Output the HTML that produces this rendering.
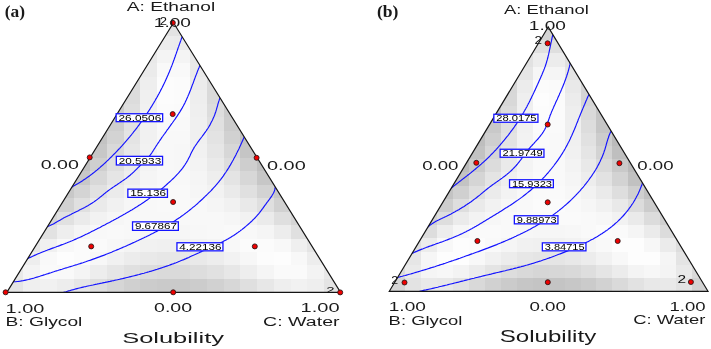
<!DOCTYPE html>
<html><head><meta charset="utf-8"><title>Solubility ternary plots</title>
<style>html,body{margin:0;padding:0;background:#fff;}svg{display:block;}</style>
</head><body>
<svg width="711" height="349" viewBox="0 0 711 349">
<defs>
<clipPath id="cta"><polygon points="173.5,22.8 6.8,292.4 340.6,292.4"/></clipPath>
<clipPath id="ctb"><polygon points="548.2,27.0 389.3,291.3 708.0,291.3"/></clipPath>
</defs>
<polygon points="173.5,22.8 6.8,292.4 340.6,292.4" fill="#e6e6e6"/>
<g clip-path="url(#cta)" shape-rendering="crispEdges">
<rect x="6.80" y="23.00" width="16.99" height="13.77" fill="rgb(205,205,205)"/>
<rect x="23.49" y="23.00" width="16.99" height="13.77" fill="rgb(208,208,208)"/>
<rect x="40.18" y="23.00" width="16.99" height="13.77" fill="rgb(212,212,212)"/>
<rect x="56.87" y="23.00" width="16.99" height="13.77" fill="rgb(217,217,217)"/>
<rect x="73.56" y="23.00" width="16.99" height="13.77" fill="rgb(222,222,222)"/>
<rect x="90.25" y="23.00" width="16.99" height="13.77" fill="rgb(227,227,227)"/>
<rect x="106.94" y="23.00" width="16.99" height="13.77" fill="rgb(231,231,231)"/>
<rect x="123.63" y="23.00" width="16.99" height="13.77" fill="rgb(234,234,234)"/>
<rect x="140.32" y="23.00" width="16.99" height="13.77" fill="rgb(234,234,234)"/>
<rect x="157.01" y="23.00" width="16.99" height="13.77" fill="rgb(227,227,227)"/>
<rect x="173.70" y="23.00" width="16.99" height="13.77" fill="rgb(227,227,227)"/>
<rect x="190.39" y="23.00" width="16.99" height="13.77" fill="rgb(232,232,232)"/>
<rect x="207.08" y="23.00" width="16.99" height="13.77" fill="rgb(232,232,232)"/>
<rect x="223.77" y="23.00" width="16.99" height="13.77" fill="rgb(229,229,229)"/>
<rect x="240.46" y="23.00" width="16.99" height="13.77" fill="rgb(224,224,224)"/>
<rect x="257.15" y="23.00" width="16.99" height="13.77" fill="rgb(219,219,219)"/>
<rect x="273.84" y="23.00" width="16.99" height="13.77" fill="rgb(215,215,215)"/>
<rect x="290.53" y="23.00" width="16.99" height="13.77" fill="rgb(210,210,210)"/>
<rect x="307.22" y="23.00" width="16.99" height="13.77" fill="rgb(206,206,206)"/>
<rect x="323.91" y="23.00" width="16.99" height="13.77" fill="rgb(203,203,203)"/>
<rect x="6.80" y="36.47" width="16.99" height="13.77" fill="rgb(202,202,202)"/>
<rect x="23.49" y="36.47" width="16.99" height="13.77" fill="rgb(205,205,205)"/>
<rect x="40.18" y="36.47" width="16.99" height="13.77" fill="rgb(209,209,209)"/>
<rect x="56.87" y="36.47" width="16.99" height="13.77" fill="rgb(213,213,213)"/>
<rect x="73.56" y="36.47" width="16.99" height="13.77" fill="rgb(217,217,217)"/>
<rect x="90.25" y="36.47" width="16.99" height="13.77" fill="rgb(223,223,223)"/>
<rect x="106.94" y="36.47" width="16.99" height="13.77" fill="rgb(228,228,228)"/>
<rect x="123.63" y="36.47" width="16.99" height="13.77" fill="rgb(232,232,232)"/>
<rect x="140.32" y="36.47" width="16.99" height="13.77" fill="rgb(234,234,234)"/>
<rect x="157.01" y="36.47" width="16.99" height="13.77" fill="rgb(236,236,236)"/>
<rect x="173.70" y="36.47" width="16.99" height="13.77" fill="rgb(235,235,235)"/>
<rect x="190.39" y="36.47" width="16.99" height="13.77" fill="rgb(233,233,233)"/>
<rect x="207.08" y="36.47" width="16.99" height="13.77" fill="rgb(230,230,230)"/>
<rect x="223.77" y="36.47" width="16.99" height="13.77" fill="rgb(226,226,226)"/>
<rect x="240.46" y="36.47" width="16.99" height="13.77" fill="rgb(221,221,221)"/>
<rect x="257.15" y="36.47" width="16.99" height="13.77" fill="rgb(215,215,215)"/>
<rect x="273.84" y="36.47" width="16.99" height="13.77" fill="rgb(211,211,211)"/>
<rect x="290.53" y="36.47" width="16.99" height="13.77" fill="rgb(207,207,207)"/>
<rect x="307.22" y="36.47" width="16.99" height="13.77" fill="rgb(203,203,203)"/>
<rect x="323.91" y="36.47" width="16.99" height="13.77" fill="rgb(200,200,200)"/>
<rect x="6.80" y="49.94" width="16.99" height="13.77" fill="rgb(199,199,199)"/>
<rect x="23.49" y="49.94" width="16.99" height="13.77" fill="rgb(202,202,202)"/>
<rect x="40.18" y="49.94" width="16.99" height="13.77" fill="rgb(205,205,205)"/>
<rect x="56.87" y="49.94" width="16.99" height="13.77" fill="rgb(209,209,209)"/>
<rect x="73.56" y="49.94" width="16.99" height="13.77" fill="rgb(213,213,213)"/>
<rect x="90.25" y="49.94" width="16.99" height="13.77" fill="rgb(218,218,218)"/>
<rect x="106.94" y="49.94" width="16.99" height="13.77" fill="rgb(224,224,224)"/>
<rect x="123.63" y="49.94" width="16.99" height="13.77" fill="rgb(229,229,229)"/>
<rect x="140.32" y="49.94" width="16.99" height="13.77" fill="rgb(233,233,233)"/>
<rect x="157.01" y="49.94" width="16.99" height="13.77" fill="rgb(244,244,244)"/>
<rect x="173.70" y="49.94" width="16.99" height="13.77" fill="rgb(244,244,244)"/>
<rect x="190.39" y="49.94" width="16.99" height="13.77" fill="rgb(232,232,232)"/>
<rect x="207.08" y="49.94" width="16.99" height="13.77" fill="rgb(227,227,227)"/>
<rect x="223.77" y="49.94" width="16.99" height="13.77" fill="rgb(222,222,222)"/>
<rect x="240.46" y="49.94" width="16.99" height="13.77" fill="rgb(216,216,216)"/>
<rect x="257.15" y="49.94" width="16.99" height="13.77" fill="rgb(211,211,211)"/>
<rect x="273.84" y="49.94" width="16.99" height="13.77" fill="rgb(207,207,207)"/>
<rect x="290.53" y="49.94" width="16.99" height="13.77" fill="rgb(203,203,203)"/>
<rect x="307.22" y="49.94" width="16.99" height="13.77" fill="rgb(200,200,200)"/>
<rect x="323.91" y="49.94" width="16.99" height="13.77" fill="rgb(198,198,198)"/>
<rect x="6.80" y="63.41" width="16.99" height="13.77" fill="rgb(197,197,197)"/>
<rect x="23.49" y="63.41" width="16.99" height="13.77" fill="rgb(199,199,199)"/>
<rect x="40.18" y="63.41" width="16.99" height="13.77" fill="rgb(202,202,202)"/>
<rect x="56.87" y="63.41" width="16.99" height="13.77" fill="rgb(205,205,205)"/>
<rect x="73.56" y="63.41" width="16.99" height="13.77" fill="rgb(209,209,209)"/>
<rect x="90.25" y="63.41" width="16.99" height="13.77" fill="rgb(214,214,214)"/>
<rect x="106.94" y="63.41" width="16.99" height="13.77" fill="rgb(219,219,219)"/>
<rect x="123.63" y="63.41" width="16.99" height="13.77" fill="rgb(225,225,225)"/>
<rect x="140.32" y="63.41" width="16.99" height="13.77" fill="rgb(235,235,235)"/>
<rect x="157.01" y="63.41" width="16.99" height="13.77" fill="rgb(249,249,249)"/>
<rect x="173.70" y="63.41" width="16.99" height="13.77" fill="rgb(249,249,249)"/>
<rect x="190.39" y="63.41" width="16.99" height="13.77" fill="rgb(233,233,233)"/>
<rect x="207.08" y="63.41" width="16.99" height="13.77" fill="rgb(223,223,223)"/>
<rect x="223.77" y="63.41" width="16.99" height="13.77" fill="rgb(217,217,217)"/>
<rect x="240.46" y="63.41" width="16.99" height="13.77" fill="rgb(212,212,212)"/>
<rect x="257.15" y="63.41" width="16.99" height="13.77" fill="rgb(207,207,207)"/>
<rect x="273.84" y="63.41" width="16.99" height="13.77" fill="rgb(203,203,203)"/>
<rect x="290.53" y="63.41" width="16.99" height="13.77" fill="rgb(200,200,200)"/>
<rect x="307.22" y="63.41" width="16.99" height="13.77" fill="rgb(197,197,197)"/>
<rect x="323.91" y="63.41" width="16.99" height="13.77" fill="rgb(195,195,195)"/>
<rect x="6.80" y="76.88" width="16.99" height="13.77" fill="rgb(195,195,195)"/>
<rect x="23.49" y="76.88" width="16.99" height="13.77" fill="rgb(197,197,197)"/>
<rect x="40.18" y="76.88" width="16.99" height="13.77" fill="rgb(199,199,199)"/>
<rect x="56.87" y="76.88" width="16.99" height="13.77" fill="rgb(202,202,202)"/>
<rect x="73.56" y="76.88" width="16.99" height="13.77" fill="rgb(205,205,205)"/>
<rect x="90.25" y="76.88" width="16.99" height="13.77" fill="rgb(209,209,209)"/>
<rect x="106.94" y="76.88" width="16.99" height="13.77" fill="rgb(215,215,215)"/>
<rect x="123.63" y="76.88" width="16.99" height="13.77" fill="rgb(220,220,220)"/>
<rect x="140.32" y="76.88" width="16.99" height="13.77" fill="rgb(238,238,238)"/>
<rect x="157.01" y="76.88" width="16.99" height="13.77" fill="rgb(252,252,252)"/>
<rect x="173.70" y="76.88" width="16.99" height="13.77" fill="rgb(251,251,251)"/>
<rect x="190.39" y="76.88" width="16.99" height="13.77" fill="rgb(236,236,236)"/>
<rect x="207.08" y="76.88" width="16.99" height="13.77" fill="rgb(218,218,218)"/>
<rect x="223.77" y="76.88" width="16.99" height="13.77" fill="rgb(212,212,212)"/>
<rect x="240.46" y="76.88" width="16.99" height="13.77" fill="rgb(207,207,207)"/>
<rect x="257.15" y="76.88" width="16.99" height="13.77" fill="rgb(203,203,203)"/>
<rect x="273.84" y="76.88" width="16.99" height="13.77" fill="rgb(200,200,200)"/>
<rect x="290.53" y="76.88" width="16.99" height="13.77" fill="rgb(197,197,197)"/>
<rect x="307.22" y="76.88" width="16.99" height="13.77" fill="rgb(195,195,195)"/>
<rect x="323.91" y="76.88" width="16.99" height="13.77" fill="rgb(194,194,194)"/>
<rect x="6.80" y="90.35" width="16.99" height="13.77" fill="rgb(194,194,194)"/>
<rect x="23.49" y="90.35" width="16.99" height="13.77" fill="rgb(195,195,195)"/>
<rect x="40.18" y="90.35" width="16.99" height="13.77" fill="rgb(196,196,196)"/>
<rect x="56.87" y="90.35" width="16.99" height="13.77" fill="rgb(198,198,198)"/>
<rect x="73.56" y="90.35" width="16.99" height="13.77" fill="rgb(201,201,201)"/>
<rect x="90.25" y="90.35" width="16.99" height="13.77" fill="rgb(205,205,205)"/>
<rect x="106.94" y="90.35" width="16.99" height="13.77" fill="rgb(210,210,210)"/>
<rect x="123.63" y="90.35" width="16.99" height="13.77" fill="rgb(220,220,220)"/>
<rect x="140.32" y="90.35" width="16.99" height="13.77" fill="rgb(240,240,240)"/>
<rect x="157.01" y="90.35" width="16.99" height="13.77" fill="rgb(252,252,252)"/>
<rect x="173.70" y="90.35" width="16.99" height="13.77" fill="rgb(251,251,251)"/>
<rect x="190.39" y="90.35" width="16.99" height="13.77" fill="rgb(238,238,238)"/>
<rect x="207.08" y="90.35" width="16.99" height="13.77" fill="rgb(218,218,218)"/>
<rect x="223.77" y="90.35" width="16.99" height="13.77" fill="rgb(208,208,208)"/>
<rect x="240.46" y="90.35" width="16.99" height="13.77" fill="rgb(203,203,203)"/>
<rect x="257.15" y="90.35" width="16.99" height="13.77" fill="rgb(199,199,199)"/>
<rect x="273.84" y="90.35" width="16.99" height="13.77" fill="rgb(197,197,197)"/>
<rect x="290.53" y="90.35" width="16.99" height="13.77" fill="rgb(195,195,195)"/>
<rect x="307.22" y="90.35" width="16.99" height="13.77" fill="rgb(193,193,193)"/>
<rect x="323.91" y="90.35" width="16.99" height="13.77" fill="rgb(192,192,192)"/>
<rect x="6.80" y="103.82" width="16.99" height="13.77" fill="rgb(193,193,193)"/>
<rect x="23.49" y="103.82" width="16.99" height="13.77" fill="rgb(194,194,194)"/>
<rect x="40.18" y="103.82" width="16.99" height="13.77" fill="rgb(195,195,195)"/>
<rect x="56.87" y="103.82" width="16.99" height="13.77" fill="rgb(196,196,196)"/>
<rect x="73.56" y="103.82" width="16.99" height="13.77" fill="rgb(198,198,198)"/>
<rect x="90.25" y="103.82" width="16.99" height="13.77" fill="rgb(201,201,201)"/>
<rect x="106.94" y="103.82" width="16.99" height="13.77" fill="rgb(205,205,205)"/>
<rect x="123.63" y="103.82" width="16.99" height="13.77" fill="rgb(223,223,223)"/>
<rect x="140.32" y="103.82" width="16.99" height="13.77" fill="rgb(241,241,241)"/>
<rect x="157.01" y="103.82" width="16.99" height="13.77" fill="rgb(251,251,251)"/>
<rect x="173.70" y="103.82" width="16.99" height="13.77" fill="rgb(250,250,250)"/>
<rect x="190.39" y="103.82" width="16.99" height="13.77" fill="rgb(239,239,239)"/>
<rect x="207.08" y="103.82" width="16.99" height="13.77" fill="rgb(221,221,221)"/>
<rect x="223.77" y="103.82" width="16.99" height="13.77" fill="rgb(203,203,203)"/>
<rect x="240.46" y="103.82" width="16.99" height="13.77" fill="rgb(199,199,199)"/>
<rect x="257.15" y="103.82" width="16.99" height="13.77" fill="rgb(196,196,196)"/>
<rect x="273.84" y="103.82" width="16.99" height="13.77" fill="rgb(194,194,194)"/>
<rect x="290.53" y="103.82" width="16.99" height="13.77" fill="rgb(193,193,193)"/>
<rect x="307.22" y="103.82" width="16.99" height="13.77" fill="rgb(192,192,192)"/>
<rect x="323.91" y="103.82" width="16.99" height="13.77" fill="rgb(192,192,192)"/>
<rect x="6.80" y="117.29" width="16.99" height="13.77" fill="rgb(193,193,193)"/>
<rect x="23.49" y="117.29" width="16.99" height="13.77" fill="rgb(193,193,193)"/>
<rect x="40.18" y="117.29" width="16.99" height="13.77" fill="rgb(193,193,193)"/>
<rect x="56.87" y="117.29" width="16.99" height="13.77" fill="rgb(194,194,194)"/>
<rect x="73.56" y="117.29" width="16.99" height="13.77" fill="rgb(196,196,196)"/>
<rect x="90.25" y="117.29" width="16.99" height="13.77" fill="rgb(198,198,198)"/>
<rect x="106.94" y="117.29" width="16.99" height="13.77" fill="rgb(206,206,206)"/>
<rect x="123.63" y="117.29" width="16.99" height="13.77" fill="rgb(226,226,226)"/>
<rect x="140.32" y="117.29" width="16.99" height="13.77" fill="rgb(241,241,241)"/>
<rect x="157.01" y="117.29" width="16.99" height="13.77" fill="rgb(249,249,249)"/>
<rect x="173.70" y="117.29" width="16.99" height="13.77" fill="rgb(249,249,249)"/>
<rect x="190.39" y="117.29" width="16.99" height="13.77" fill="rgb(240,240,240)"/>
<rect x="207.08" y="117.29" width="16.99" height="13.77" fill="rgb(224,224,224)"/>
<rect x="223.77" y="117.29" width="16.99" height="13.77" fill="rgb(204,204,204)"/>
<rect x="240.46" y="117.29" width="16.99" height="13.77" fill="rgb(196,196,196)"/>
<rect x="257.15" y="117.29" width="16.99" height="13.77" fill="rgb(194,194,194)"/>
<rect x="273.84" y="117.29" width="16.99" height="13.77" fill="rgb(193,193,193)"/>
<rect x="290.53" y="117.29" width="16.99" height="13.77" fill="rgb(192,192,192)"/>
<rect x="307.22" y="117.29" width="16.99" height="13.77" fill="rgb(192,192,192)"/>
<rect x="323.91" y="117.29" width="16.99" height="13.77" fill="rgb(192,192,192)"/>
<rect x="6.80" y="130.76" width="16.99" height="13.77" fill="rgb(194,194,194)"/>
<rect x="23.49" y="130.76" width="16.99" height="13.77" fill="rgb(193,193,193)"/>
<rect x="40.18" y="130.76" width="16.99" height="13.77" fill="rgb(193,193,193)"/>
<rect x="56.87" y="130.76" width="16.99" height="13.77" fill="rgb(193,193,193)"/>
<rect x="73.56" y="130.76" width="16.99" height="13.77" fill="rgb(194,194,194)"/>
<rect x="90.25" y="130.76" width="16.99" height="13.77" fill="rgb(195,195,195)"/>
<rect x="106.94" y="130.76" width="16.99" height="13.77" fill="rgb(211,211,211)"/>
<rect x="123.63" y="130.76" width="16.99" height="13.77" fill="rgb(228,228,228)"/>
<rect x="140.32" y="130.76" width="16.99" height="13.77" fill="rgb(241,241,241)"/>
<rect x="157.01" y="130.76" width="16.99" height="13.77" fill="rgb(248,248,248)"/>
<rect x="173.70" y="130.76" width="16.99" height="13.77" fill="rgb(248,248,248)"/>
<rect x="190.39" y="130.76" width="16.99" height="13.77" fill="rgb(240,240,240)"/>
<rect x="207.08" y="130.76" width="16.99" height="13.77" fill="rgb(227,227,227)"/>
<rect x="223.77" y="130.76" width="16.99" height="13.77" fill="rgb(209,209,209)"/>
<rect x="240.46" y="130.76" width="16.99" height="13.77" fill="rgb(193,193,193)"/>
<rect x="257.15" y="130.76" width="16.99" height="13.77" fill="rgb(192,192,192)"/>
<rect x="273.84" y="130.76" width="16.99" height="13.77" fill="rgb(192,192,192)"/>
<rect x="290.53" y="130.76" width="16.99" height="13.77" fill="rgb(192,192,192)"/>
<rect x="307.22" y="130.76" width="16.99" height="13.77" fill="rgb(192,192,192)"/>
<rect x="323.91" y="130.76" width="16.99" height="13.77" fill="rgb(192,192,192)"/>
<rect x="6.80" y="144.23" width="16.99" height="13.77" fill="rgb(196,196,196)"/>
<rect x="23.49" y="144.23" width="16.99" height="13.77" fill="rgb(195,195,195)"/>
<rect x="40.18" y="144.23" width="16.99" height="13.77" fill="rgb(194,194,194)"/>
<rect x="56.87" y="144.23" width="16.99" height="13.77" fill="rgb(193,193,193)"/>
<rect x="73.56" y="144.23" width="16.99" height="13.77" fill="rgb(193,193,193)"/>
<rect x="90.25" y="144.23" width="16.99" height="13.77" fill="rgb(199,199,199)"/>
<rect x="106.94" y="144.23" width="16.99" height="13.77" fill="rgb(217,217,217)"/>
<rect x="123.63" y="144.23" width="16.99" height="13.77" fill="rgb(231,231,231)"/>
<rect x="140.32" y="144.23" width="16.99" height="13.77" fill="rgb(242,242,242)"/>
<rect x="157.01" y="144.23" width="16.99" height="13.77" fill="rgb(248,248,248)"/>
<rect x="173.70" y="144.23" width="16.99" height="13.77" fill="rgb(247,247,247)"/>
<rect x="190.39" y="144.23" width="16.99" height="13.77" fill="rgb(241,241,241)"/>
<rect x="207.08" y="144.23" width="16.99" height="13.77" fill="rgb(230,230,230)"/>
<rect x="223.77" y="144.23" width="16.99" height="13.77" fill="rgb(215,215,215)"/>
<rect x="240.46" y="144.23" width="16.99" height="13.77" fill="rgb(197,197,197)"/>
<rect x="257.15" y="144.23" width="16.99" height="13.77" fill="rgb(192,192,192)"/>
<rect x="273.84" y="144.23" width="16.99" height="13.77" fill="rgb(192,192,192)"/>
<rect x="290.53" y="144.23" width="16.99" height="13.77" fill="rgb(192,192,192)"/>
<rect x="307.22" y="144.23" width="16.99" height="13.77" fill="rgb(193,193,193)"/>
<rect x="323.91" y="144.23" width="16.99" height="13.77" fill="rgb(194,194,194)"/>
<rect x="6.80" y="157.70" width="16.99" height="13.77" fill="rgb(198,198,198)"/>
<rect x="23.49" y="157.70" width="16.99" height="13.77" fill="rgb(197,197,197)"/>
<rect x="40.18" y="157.70" width="16.99" height="13.77" fill="rgb(195,195,195)"/>
<rect x="56.87" y="157.70" width="16.99" height="13.77" fill="rgb(194,194,194)"/>
<rect x="73.56" y="157.70" width="16.99" height="13.77" fill="rgb(193,193,193)"/>
<rect x="90.25" y="157.70" width="16.99" height="13.77" fill="rgb(207,207,207)"/>
<rect x="106.94" y="157.70" width="16.99" height="13.77" fill="rgb(223,223,223)"/>
<rect x="123.63" y="157.70" width="16.99" height="13.77" fill="rgb(235,235,235)"/>
<rect x="140.32" y="157.70" width="16.99" height="13.77" fill="rgb(243,243,243)"/>
<rect x="157.01" y="157.70" width="16.99" height="13.77" fill="rgb(248,248,248)"/>
<rect x="173.70" y="157.70" width="16.99" height="13.77" fill="rgb(247,247,247)"/>
<rect x="190.39" y="157.70" width="16.99" height="13.77" fill="rgb(243,243,243)"/>
<rect x="207.08" y="157.70" width="16.99" height="13.77" fill="rgb(234,234,234)"/>
<rect x="223.77" y="157.70" width="16.99" height="13.77" fill="rgb(221,221,221)"/>
<rect x="240.46" y="157.70" width="16.99" height="13.77" fill="rgb(206,206,206)"/>
<rect x="257.15" y="157.70" width="16.99" height="13.77" fill="rgb(192,192,192)"/>
<rect x="273.84" y="157.70" width="16.99" height="13.77" fill="rgb(193,193,193)"/>
<rect x="290.53" y="157.70" width="16.99" height="13.77" fill="rgb(194,194,194)"/>
<rect x="307.22" y="157.70" width="16.99" height="13.77" fill="rgb(195,195,195)"/>
<rect x="323.91" y="157.70" width="16.99" height="13.77" fill="rgb(197,197,197)"/>
<rect x="6.80" y="171.17" width="16.99" height="13.77" fill="rgb(202,202,202)"/>
<rect x="23.49" y="171.17" width="16.99" height="13.77" fill="rgb(200,200,200)"/>
<rect x="40.18" y="171.17" width="16.99" height="13.77" fill="rgb(198,198,198)"/>
<rect x="56.87" y="171.17" width="16.99" height="13.77" fill="rgb(197,197,197)"/>
<rect x="73.56" y="171.17" width="16.99" height="13.77" fill="rgb(200,200,200)"/>
<rect x="90.25" y="171.17" width="16.99" height="13.77" fill="rgb(216,216,216)"/>
<rect x="106.94" y="171.17" width="16.99" height="13.77" fill="rgb(229,229,229)"/>
<rect x="123.63" y="171.17" width="16.99" height="13.77" fill="rgb(238,238,238)"/>
<rect x="140.32" y="171.17" width="16.99" height="13.77" fill="rgb(245,245,245)"/>
<rect x="157.01" y="171.17" width="16.99" height="13.77" fill="rgb(248,248,248)"/>
<rect x="173.70" y="171.17" width="16.99" height="13.77" fill="rgb(248,248,248)"/>
<rect x="190.39" y="171.17" width="16.99" height="13.77" fill="rgb(245,245,245)"/>
<rect x="207.08" y="171.17" width="16.99" height="13.77" fill="rgb(238,238,238)"/>
<rect x="223.77" y="171.17" width="16.99" height="13.77" fill="rgb(228,228,228)"/>
<rect x="240.46" y="171.17" width="16.99" height="13.77" fill="rgb(215,215,215)"/>
<rect x="257.15" y="171.17" width="16.99" height="13.77" fill="rgb(199,199,199)"/>
<rect x="273.84" y="171.17" width="16.99" height="13.77" fill="rgb(195,195,195)"/>
<rect x="290.53" y="171.17" width="16.99" height="13.77" fill="rgb(197,197,197)"/>
<rect x="307.22" y="171.17" width="16.99" height="13.77" fill="rgb(199,199,199)"/>
<rect x="323.91" y="171.17" width="16.99" height="13.77" fill="rgb(200,200,200)"/>
<rect x="6.80" y="184.64" width="16.99" height="13.77" fill="rgb(206,206,206)"/>
<rect x="23.49" y="184.64" width="16.99" height="13.77" fill="rgb(204,204,204)"/>
<rect x="40.18" y="184.64" width="16.99" height="13.77" fill="rgb(202,202,202)"/>
<rect x="56.87" y="184.64" width="16.99" height="13.77" fill="rgb(200,200,200)"/>
<rect x="73.56" y="184.64" width="16.99" height="13.77" fill="rgb(212,212,212)"/>
<rect x="90.25" y="184.64" width="16.99" height="13.77" fill="rgb(225,225,225)"/>
<rect x="106.94" y="184.64" width="16.99" height="13.77" fill="rgb(235,235,235)"/>
<rect x="123.63" y="184.64" width="16.99" height="13.77" fill="rgb(242,242,242)"/>
<rect x="140.32" y="184.64" width="16.99" height="13.77" fill="rgb(247,247,247)"/>
<rect x="157.01" y="184.64" width="16.99" height="13.77" fill="rgb(249,249,249)"/>
<rect x="173.70" y="184.64" width="16.99" height="13.77" fill="rgb(249,249,249)"/>
<rect x="190.39" y="184.64" width="16.99" height="13.77" fill="rgb(246,246,246)"/>
<rect x="207.08" y="184.64" width="16.99" height="13.77" fill="rgb(242,242,242)"/>
<rect x="223.77" y="184.64" width="16.99" height="13.77" fill="rgb(234,234,234)"/>
<rect x="240.46" y="184.64" width="16.99" height="13.77" fill="rgb(224,224,224)"/>
<rect x="257.15" y="184.64" width="16.99" height="13.77" fill="rgb(211,211,211)"/>
<rect x="273.84" y="184.64" width="16.99" height="13.77" fill="rgb(199,199,199)"/>
<rect x="290.53" y="184.64" width="16.99" height="13.77" fill="rgb(201,201,201)"/>
<rect x="307.22" y="184.64" width="16.99" height="13.77" fill="rgb(203,203,203)"/>
<rect x="323.91" y="184.64" width="16.99" height="13.77" fill="rgb(205,205,205)"/>
<rect x="6.80" y="198.11" width="16.99" height="13.77" fill="rgb(212,212,212)"/>
<rect x="23.49" y="198.11" width="16.99" height="13.77" fill="rgb(210,210,210)"/>
<rect x="40.18" y="198.11" width="16.99" height="13.77" fill="rgb(208,208,208)"/>
<rect x="56.87" y="198.11" width="16.99" height="13.77" fill="rgb(210,210,210)"/>
<rect x="73.56" y="198.11" width="16.99" height="13.77" fill="rgb(224,224,224)"/>
<rect x="90.25" y="198.11" width="16.99" height="13.77" fill="rgb(234,234,234)"/>
<rect x="106.94" y="198.11" width="16.99" height="13.77" fill="rgb(241,241,241)"/>
<rect x="123.63" y="198.11" width="16.99" height="13.77" fill="rgb(246,246,246)"/>
<rect x="140.32" y="198.11" width="16.99" height="13.77" fill="rgb(248,248,248)"/>
<rect x="157.01" y="198.11" width="16.99" height="13.77" fill="rgb(249,249,249)"/>
<rect x="173.70" y="198.11" width="16.99" height="13.77" fill="rgb(249,249,249)"/>
<rect x="190.39" y="198.11" width="16.99" height="13.77" fill="rgb(248,248,248)"/>
<rect x="207.08" y="198.11" width="16.99" height="13.77" fill="rgb(245,245,245)"/>
<rect x="223.77" y="198.11" width="16.99" height="13.77" fill="rgb(241,241,241)"/>
<rect x="240.46" y="198.11" width="16.99" height="13.77" fill="rgb(233,233,233)"/>
<rect x="257.15" y="198.11" width="16.99" height="13.77" fill="rgb(223,223,223)"/>
<rect x="273.84" y="198.11" width="16.99" height="13.77" fill="rgb(209,209,209)"/>
<rect x="290.53" y="198.11" width="16.99" height="13.77" fill="rgb(206,206,206)"/>
<rect x="307.22" y="198.11" width="16.99" height="13.77" fill="rgb(209,209,209)"/>
<rect x="323.91" y="198.11" width="16.99" height="13.77" fill="rgb(211,211,211)"/>
<rect x="6.80" y="211.58" width="16.99" height="13.77" fill="rgb(218,218,218)"/>
<rect x="23.49" y="211.58" width="16.99" height="13.77" fill="rgb(216,216,216)"/>
<rect x="40.18" y="211.58" width="16.99" height="13.77" fill="rgb(214,214,214)"/>
<rect x="56.87" y="211.58" width="16.99" height="13.77" fill="rgb(225,225,225)"/>
<rect x="73.56" y="211.58" width="16.99" height="13.77" fill="rgb(235,235,235)"/>
<rect x="90.25" y="211.58" width="16.99" height="13.77" fill="rgb(242,242,242)"/>
<rect x="106.94" y="211.58" width="16.99" height="13.77" fill="rgb(246,246,246)"/>
<rect x="123.63" y="211.58" width="16.99" height="13.77" fill="rgb(248,248,248)"/>
<rect x="140.32" y="211.58" width="16.99" height="13.77" fill="rgb(248,248,248)"/>
<rect x="157.01" y="211.58" width="16.99" height="13.77" fill="rgb(248,248,248)"/>
<rect x="173.70" y="211.58" width="16.99" height="13.77" fill="rgb(248,248,248)"/>
<rect x="190.39" y="211.58" width="16.99" height="13.77" fill="rgb(248,248,248)"/>
<rect x="207.08" y="211.58" width="16.99" height="13.77" fill="rgb(248,248,248)"/>
<rect x="223.77" y="211.58" width="16.99" height="13.77" fill="rgb(246,246,246)"/>
<rect x="240.46" y="211.58" width="16.99" height="13.77" fill="rgb(242,242,242)"/>
<rect x="257.15" y="211.58" width="16.99" height="13.77" fill="rgb(235,235,235)"/>
<rect x="273.84" y="211.58" width="16.99" height="13.77" fill="rgb(223,223,223)"/>
<rect x="290.53" y="211.58" width="16.99" height="13.77" fill="rgb(213,213,213)"/>
<rect x="307.22" y="211.58" width="16.99" height="13.77" fill="rgb(215,215,215)"/>
<rect x="323.91" y="211.58" width="16.99" height="13.77" fill="rgb(217,217,217)"/>
<rect x="6.80" y="225.05" width="16.99" height="13.77" fill="rgb(225,225,225)"/>
<rect x="23.49" y="225.05" width="16.99" height="13.77" fill="rgb(223,223,223)"/>
<rect x="40.18" y="225.05" width="16.99" height="13.77" fill="rgb(226,226,226)"/>
<rect x="56.87" y="225.05" width="16.99" height="13.77" fill="rgb(238,238,238)"/>
<rect x="73.56" y="225.05" width="16.99" height="13.77" fill="rgb(245,245,245)"/>
<rect x="90.25" y="225.05" width="16.99" height="13.77" fill="rgb(248,248,248)"/>
<rect x="106.94" y="225.05" width="16.99" height="13.77" fill="rgb(249,249,249)"/>
<rect x="123.63" y="225.05" width="16.99" height="13.77" fill="rgb(248,248,248)"/>
<rect x="140.32" y="225.05" width="16.99" height="13.77" fill="rgb(246,246,246)"/>
<rect x="157.01" y="225.05" width="16.99" height="13.77" fill="rgb(246,246,246)"/>
<rect x="173.70" y="225.05" width="16.99" height="13.77" fill="rgb(246,246,246)"/>
<rect x="190.39" y="225.05" width="16.99" height="13.77" fill="rgb(247,247,247)"/>
<rect x="207.08" y="225.05" width="16.99" height="13.77" fill="rgb(248,248,248)"/>
<rect x="223.77" y="225.05" width="16.99" height="13.77" fill="rgb(249,249,249)"/>
<rect x="240.46" y="225.05" width="16.99" height="13.77" fill="rgb(248,248,248)"/>
<rect x="257.15" y="225.05" width="16.99" height="13.77" fill="rgb(245,245,245)"/>
<rect x="273.84" y="225.05" width="16.99" height="13.77" fill="rgb(237,237,237)"/>
<rect x="290.53" y="225.05" width="16.99" height="13.77" fill="rgb(224,224,224)"/>
<rect x="307.22" y="225.05" width="16.99" height="13.77" fill="rgb(222,222,222)"/>
<rect x="323.91" y="225.05" width="16.99" height="13.77" fill="rgb(223,223,223)"/>
<rect x="6.80" y="238.52" width="16.99" height="13.77" fill="rgb(231,231,231)"/>
<rect x="23.49" y="238.52" width="16.99" height="13.77" fill="rgb(230,230,230)"/>
<rect x="40.18" y="238.52" width="16.99" height="13.77" fill="rgb(240,240,240)"/>
<rect x="56.87" y="238.52" width="16.99" height="13.77" fill="rgb(248,248,248)"/>
<rect x="73.56" y="238.52" width="16.99" height="13.77" fill="rgb(251,251,251)"/>
<rect x="90.25" y="238.52" width="16.99" height="13.77" fill="rgb(250,250,250)"/>
<rect x="106.94" y="238.52" width="16.99" height="13.77" fill="rgb(247,247,247)"/>
<rect x="123.63" y="238.52" width="16.99" height="13.77" fill="rgb(244,244,244)"/>
<rect x="140.32" y="238.52" width="16.99" height="13.77" fill="rgb(241,241,241)"/>
<rect x="157.01" y="238.52" width="16.99" height="13.77" fill="rgb(240,240,240)"/>
<rect x="173.70" y="238.52" width="16.99" height="13.77" fill="rgb(240,240,240)"/>
<rect x="190.39" y="238.52" width="16.99" height="13.77" fill="rgb(242,242,242)"/>
<rect x="207.08" y="238.52" width="16.99" height="13.77" fill="rgb(244,244,244)"/>
<rect x="223.77" y="238.52" width="16.99" height="13.77" fill="rgb(248,248,248)"/>
<rect x="240.46" y="238.52" width="16.99" height="13.77" fill="rgb(251,251,251)"/>
<rect x="257.15" y="238.52" width="16.99" height="13.77" fill="rgb(251,251,251)"/>
<rect x="273.84" y="238.52" width="16.99" height="13.77" fill="rgb(248,248,248)"/>
<rect x="290.53" y="238.52" width="16.99" height="13.77" fill="rgb(239,239,239)"/>
<rect x="307.22" y="238.52" width="16.99" height="13.77" fill="rgb(228,228,228)"/>
<rect x="323.91" y="238.52" width="16.99" height="13.77" fill="rgb(229,229,229)"/>
<rect x="6.80" y="251.99" width="16.99" height="13.77" fill="rgb(234,234,234)"/>
<rect x="23.49" y="251.99" width="16.99" height="13.77" fill="rgb(238,238,238)"/>
<rect x="40.18" y="251.99" width="16.99" height="13.77" fill="rgb(249,249,249)"/>
<rect x="56.87" y="251.99" width="16.99" height="13.77" fill="rgb(253,253,253)"/>
<rect x="73.56" y="251.99" width="16.99" height="13.77" fill="rgb(251,251,251)"/>
<rect x="90.25" y="251.99" width="16.99" height="13.77" fill="rgb(247,247,247)"/>
<rect x="106.94" y="251.99" width="16.99" height="13.77" fill="rgb(241,241,241)"/>
<rect x="123.63" y="251.99" width="16.99" height="13.77" fill="rgb(236,236,236)"/>
<rect x="140.32" y="251.99" width="16.99" height="13.77" fill="rgb(233,233,233)"/>
<rect x="157.01" y="251.99" width="16.99" height="13.77" fill="rgb(231,231,231)"/>
<rect x="173.70" y="251.99" width="16.99" height="13.77" fill="rgb(231,231,231)"/>
<rect x="190.39" y="251.99" width="16.99" height="13.77" fill="rgb(233,233,233)"/>
<rect x="207.08" y="251.99" width="16.99" height="13.77" fill="rgb(237,237,237)"/>
<rect x="223.77" y="251.99" width="16.99" height="13.77" fill="rgb(242,242,242)"/>
<rect x="240.46" y="251.99" width="16.99" height="13.77" fill="rgb(247,247,247)"/>
<rect x="257.15" y="251.99" width="16.99" height="13.77" fill="rgb(252,252,252)"/>
<rect x="273.84" y="251.99" width="16.99" height="13.77" fill="rgb(253,253,253)"/>
<rect x="290.53" y="251.99" width="16.99" height="13.77" fill="rgb(248,248,248)"/>
<rect x="307.22" y="251.99" width="16.99" height="13.77" fill="rgb(237,237,237)"/>
<rect x="323.91" y="251.99" width="16.99" height="13.77" fill="rgb(233,233,233)"/>
<rect x="6.80" y="265.46" width="16.99" height="13.77" fill="rgb(233,233,233)"/>
<rect x="23.49" y="265.46" width="16.99" height="13.77" fill="rgb(244,244,244)"/>
<rect x="40.18" y="265.46" width="16.99" height="13.77" fill="rgb(250,250,250)"/>
<rect x="56.87" y="265.46" width="16.99" height="13.77" fill="rgb(249,249,249)"/>
<rect x="73.56" y="265.46" width="16.99" height="13.77" fill="rgb(244,244,244)"/>
<rect x="90.25" y="265.46" width="16.99" height="13.77" fill="rgb(237,237,237)"/>
<rect x="106.94" y="265.46" width="16.99" height="13.77" fill="rgb(230,230,230)"/>
<rect x="123.63" y="265.46" width="16.99" height="13.77" fill="rgb(224,224,224)"/>
<rect x="140.32" y="265.46" width="16.99" height="13.77" fill="rgb(220,220,220)"/>
<rect x="157.01" y="265.46" width="16.99" height="13.77" fill="rgb(218,218,218)"/>
<rect x="173.70" y="265.46" width="16.99" height="13.77" fill="rgb(218,218,218)"/>
<rect x="190.39" y="265.46" width="16.99" height="13.77" fill="rgb(221,221,221)"/>
<rect x="207.08" y="265.46" width="16.99" height="13.77" fill="rgb(225,225,225)"/>
<rect x="223.77" y="265.46" width="16.99" height="13.77" fill="rgb(231,231,231)"/>
<rect x="240.46" y="265.46" width="16.99" height="13.77" fill="rgb(238,238,238)"/>
<rect x="257.15" y="265.46" width="16.99" height="13.77" fill="rgb(245,245,245)"/>
<rect x="273.84" y="265.46" width="16.99" height="13.77" fill="rgb(250,250,250)"/>
<rect x="290.53" y="265.46" width="16.99" height="13.77" fill="rgb(250,250,250)"/>
<rect x="307.22" y="265.46" width="16.99" height="13.77" fill="rgb(243,243,243)"/>
<rect x="323.91" y="265.46" width="16.99" height="13.77" fill="rgb(232,232,232)"/>
<rect x="6.80" y="278.93" width="16.99" height="13.77" fill="rgb(229,229,229)"/>
<rect x="23.49" y="278.93" width="16.99" height="13.77" fill="rgb(239,239,239)"/>
<rect x="40.18" y="278.93" width="16.99" height="13.77" fill="rgb(241,241,241)"/>
<rect x="56.87" y="278.93" width="16.99" height="13.77" fill="rgb(237,237,237)"/>
<rect x="73.56" y="278.93" width="16.99" height="13.77" fill="rgb(230,230,230)"/>
<rect x="90.25" y="278.93" width="16.99" height="13.77" fill="rgb(222,222,222)"/>
<rect x="106.94" y="278.93" width="16.99" height="13.77" fill="rgb(214,214,214)"/>
<rect x="123.63" y="278.93" width="16.99" height="13.77" fill="rgb(208,208,208)"/>
<rect x="140.32" y="278.93" width="16.99" height="13.77" fill="rgb(204,204,204)"/>
<rect x="157.01" y="278.93" width="16.99" height="13.77" fill="rgb(202,202,202)"/>
<rect x="173.70" y="278.93" width="16.99" height="13.77" fill="rgb(202,202,202)"/>
<rect x="190.39" y="278.93" width="16.99" height="13.77" fill="rgb(204,204,204)"/>
<rect x="207.08" y="278.93" width="16.99" height="13.77" fill="rgb(209,209,209)"/>
<rect x="223.77" y="278.93" width="16.99" height="13.77" fill="rgb(215,215,215)"/>
<rect x="240.46" y="278.93" width="16.99" height="13.77" fill="rgb(223,223,223)"/>
<rect x="257.15" y="278.93" width="16.99" height="13.77" fill="rgb(231,231,231)"/>
<rect x="273.84" y="278.93" width="16.99" height="13.77" fill="rgb(238,238,238)"/>
<rect x="290.53" y="278.93" width="16.99" height="13.77" fill="rgb(241,241,241)"/>
<rect x="307.22" y="278.93" width="16.99" height="13.77" fill="rgb(238,238,238)"/>
<rect x="323.91" y="278.93" width="16.99" height="13.77" fill="rgb(228,228,228)"/>
</g>
<path d="M183.1,34.4 L182.7,35.3 L182.4,36.2 L182.0,37.1 L181.7,38.1 L181.3,39.0 L181.0,39.9 L180.7,40.9 L180.3,41.8 L180.0,42.7 L179.7,43.6 L179.3,44.6 L179.0,45.5 L178.7,46.4 L178.3,47.4 L178.0,48.3 L177.7,49.2 L177.4,50.2 L177.0,51.1 L176.7,52.1 L176.4,53.0 L176.1,53.9 L175.7,54.9 L175.4,55.8 L175.1,56.7 L174.7,57.7 L174.4,58.6 L174.1,59.5 L173.7,60.5 L173.4,61.4 L173.1,62.3 L172.7,63.2 L172.4,64.2 L172.0,65.1 L171.7,66.0 L171.3,66.9 L170.9,67.9 L170.6,68.8 L170.2,69.7 L169.8,70.6 L169.5,71.5 L169.1,72.4 L168.7,73.3 L168.3,74.3 L167.9,75.2 L167.5,76.1 L167.1,77.0 L166.7,77.9 L166.3,78.8 L165.9,79.7 L165.5,80.6 L165.1,81.5 L164.7,82.3 L164.3,83.2 L163.8,84.1 L163.4,85.0 L163.0,85.9 L162.5,86.8 L162.1,87.7 L161.6,88.5 L161.2,89.4 L160.7,90.3 L160.3,91.2 L159.8,92.0 L159.4,92.9 L158.9,93.8 L158.4,94.6 L157.9,95.5 L157.5,96.4 L157.0,97.2 L156.5,98.1 L156.0,98.9 L155.5,99.8 L155.0,100.7 L154.5,101.5 L154.0,102.4 L153.5,103.2 L153.0,104.0 L152.5,104.9 L152.0,105.7 L151.5,106.6 L150.9,107.4 L150.4,108.3 L149.9,109.1 L149.4,109.9 L148.8,110.8 L148.3,111.6 L147.7,112.4 L147.2,113.2 L146.6,114.1 L146.1,114.9 L145.5,115.7 L145.0,116.5 L144.4,117.3 L143.9,118.2 L143.3,119.0 L142.7,119.8 L142.2,120.6 L141.6,121.4 L141.0,122.2 L140.4,123.0 L139.8,123.8 L139.3,124.6 L138.7,125.4 L138.1,126.2 L137.5,127.0 L136.9,127.8 L136.3,128.6 L135.7,129.4 L135.1,130.1 L134.5,130.9 L133.8,131.7 L133.2,132.5 L132.6,133.3 L132.0,134.0 L131.4,134.8 L130.7,135.6 L130.1,136.3 L129.5,137.1 L128.8,137.9 L128.2,138.6 L127.6,139.4 L126.9,140.1 L126.3,140.9 L125.6,141.6 L125.0,142.4 L124.3,143.1 L123.7,143.9 L123.0,144.6 L122.3,145.4 L121.7,146.1 L121.0,146.8 L120.3,147.6 L119.7,148.3 L119.0,149.0 L118.3,149.7 L117.6,150.5 L117.0,151.2 L116.3,151.9 L115.6,152.6 L114.9,153.3 L114.2,154.0 L113.5,154.7 L112.8,155.4 L112.1,156.1 L111.4,156.8 L110.7,157.5 L110.0,158.2 L109.3,158.9 L108.6,159.6 L107.9,160.3 L107.2,160.9 L106.4,161.6 L105.7,162.3 L105.0,163.0 L104.3,163.6 L103.5,164.3 L102.8,165.0 L102.1,165.6 L101.3,166.3 L100.6,166.9 L99.9,167.6 L99.1,168.2 L98.4,168.9 L97.6,169.5 L96.9,170.1 L96.1,170.7 L95.3,171.4 L94.6,172.0 L93.8,172.6 L93.0,173.2 L92.3,173.8 L91.5,174.4 L90.7,175.0 L89.9,175.6 L89.1,176.2 L88.3,176.8 L87.5,177.3 L86.7,177.9 L85.9,178.5 L85.1,179.0 L84.3,179.6 L83.4,180.1 L82.6,180.7 L81.8,181.2 L81.0,181.7 L80.1,182.3 L79.3,182.8 L78.4,183.3 L77.6,183.8 L76.7,184.3 L75.8,184.8 L75.0,185.3 L74.1,185.8 L73.2,186.2 L72.3,186.7 L71.4,187.2 L70.5,187.6 L69.6,188.1 L68.7,188.5" fill="none" stroke="#1212ff" stroke-width="1.15" clip-path="url(#cta)"/>
<path d="M201.3,62.2 L200.8,63.3 L200.4,64.4 L199.9,65.5 L199.4,66.6 L199.0,67.7 L198.5,68.7 L198.1,69.8 L197.6,70.9 L197.2,72.1 L196.8,73.2 L196.4,74.3 L195.9,75.4 L195.5,76.5 L195.1,77.6 L194.7,78.7 L194.3,79.8 L193.9,80.9 L193.5,82.1 L193.1,83.2 L192.6,84.3 L192.2,85.4 L191.8,86.5 L191.4,87.6 L191.0,88.7 L190.6,89.8 L190.1,91.0 L189.7,92.1 L189.2,93.2 L188.8,94.3 L188.3,95.3 L187.9,96.4 L187.4,97.5 L186.9,98.6 L186.4,99.7 L185.9,100.7 L185.4,101.8 L184.9,102.9 L184.4,103.9 L183.8,105.0 L183.3,106.0 L182.7,107.0 L182.1,108.1 L181.5,109.1 L180.9,110.1 L180.3,111.1 L179.7,112.1 L179.0,113.1 L178.4,114.1 L177.7,115.1 L177.1,116.1 L176.4,117.1 L175.7,118.1 L175.1,119.1 L174.4,120.0 L173.7,121.0 L173.0,122.0 L172.3,123.0 L171.6,123.9 L170.9,124.9 L170.2,125.9 L169.5,126.8 L168.8,127.8 L168.1,128.8 L167.4,129.7 L166.7,130.7 L166.1,131.6 L165.4,132.6 L164.7,133.6 L164.0,134.5 L163.3,135.5 L162.6,136.5 L161.9,137.4 L161.3,138.4 L160.6,139.4 L159.9,140.4 L159.3,141.3 L158.6,142.3 L157.9,143.3 L157.3,144.3 L156.6,145.3 L156.0,146.3 L155.4,147.3 L154.7,148.3 L154.1,149.3 L153.5,150.3 L152.8,151.3 L152.2,152.3 L151.5,153.3 L150.9,154.2 L150.2,155.2 L149.4,156.1 L148.7,157.0 L147.9,157.9 L147.1,158.8 L146.3,159.6 L145.5,160.5 L144.6,161.3 L143.8,162.2 L142.9,163.0 L142.0,163.8 L141.2,164.6 L140.3,165.4 L139.5,166.3 L138.6,167.1 L137.8,167.9 L136.9,168.8 L136.1,169.6 L135.3,170.4 L134.4,171.2 L133.6,172.1 L132.7,172.9 L131.8,173.7 L130.9,174.4 L130.1,175.2 L129.1,176.0 L128.2,176.7 L127.3,177.4 L126.4,178.2 L125.4,178.9 L124.5,179.5 L123.5,180.2 L122.5,180.9 L121.5,181.6 L120.6,182.2 L119.6,182.9 L118.6,183.6 L117.6,184.2 L116.6,184.9 L115.6,185.5 L114.6,186.2 L113.6,186.9 L112.7,187.5 L111.7,188.2 L110.7,188.9 L109.7,189.6 L108.8,190.3 L107.8,191.0 L106.9,191.7 L105.9,192.4 L105.0,193.2 L104.1,193.9 L103.2,194.7 L102.3,195.4 L101.4,196.2 L100.4,196.9 L99.5,197.7 L98.6,198.4 L97.7,199.1 L96.7,199.9 L95.8,200.6 L94.8,201.2 L93.9,201.9 L92.9,202.6 L91.9,203.2 L90.9,203.8 L89.9,204.4 L88.9,205.1 L87.8,205.7 L86.8,206.2 L85.8,206.8 L84.7,207.4 L83.7,207.9 L82.6,208.5 L81.6,209.0 L80.5,209.6 L79.4,210.1 L78.4,210.7 L77.3,211.2 L76.2,211.7 L75.2,212.2 L74.1,212.8 L73.0,213.3 L72.0,213.8 L70.9,214.4 L69.8,214.9 L68.8,215.4 L67.7,215.9 L66.6,216.5 L65.6,217.0 L64.5,217.6 L63.5,218.1 L62.5,218.7 L61.4,219.3 L60.4,219.9 L59.4,220.4 L58.4,221.0 L57.4,221.6 L56.3,222.2 L55.3,222.8 L54.3,223.4 L53.3,224.0 L52.2,224.5 L51.1,225.0 L50.1,225.5 L48.9,226.0 L47.8,226.4 L46.6,226.8 L45.4,227.1 L44.2,227.4" fill="none" stroke="#1212ff" stroke-width="1.15" clip-path="url(#cta)"/>
<path d="M221.7,94.2 L221.1,95.4 L220.5,96.6 L220.0,97.8 L219.5,99.1 L219.1,100.4 L218.7,101.6 L218.3,102.9 L217.9,104.2 L217.6,105.5 L217.2,106.8 L216.8,108.1 L216.5,109.4 L216.1,110.7 L215.7,112.0 L215.2,113.3 L214.8,114.5 L214.3,115.8 L213.8,117.0 L213.2,118.2 L212.7,119.4 L212.1,120.7 L211.5,121.8 L210.9,123.0 L210.3,124.2 L209.7,125.4 L209.0,126.5 L208.3,127.7 L207.6,128.8 L206.8,129.9 L206.1,131.0 L205.3,132.1 L204.5,133.2 L203.7,134.3 L202.9,135.4 L202.1,136.5 L201.3,137.5 L200.5,138.6 L199.6,139.7 L198.8,140.8 L198.0,141.9 L197.2,143.0 L196.5,144.1 L195.7,145.2 L195.0,146.3 L194.2,147.4 L193.6,148.6 L192.9,149.7 L192.3,150.9 L191.7,152.1 L191.1,153.3 L190.5,154.5 L190.0,155.7 L189.4,156.9 L188.8,158.1 L188.2,159.3 L187.6,160.5 L186.9,161.6 L186.2,162.8 L185.5,163.9 L184.8,165.0 L184.0,166.1 L183.3,167.2 L182.5,168.3 L181.6,169.3 L180.8,170.4 L179.9,171.4 L179.1,172.4 L178.2,173.4 L177.2,174.4 L176.3,175.4 L175.4,176.4 L174.4,177.3 L173.5,178.3 L172.5,179.2 L171.5,180.2 L170.5,181.1 L169.5,182.0 L168.5,182.9 L167.5,183.8 L166.5,184.7 L165.5,185.6 L164.5,186.5 L163.5,187.4 L162.4,188.2 L161.4,189.1 L160.4,190.0 L159.3,190.8 L158.3,191.6 L157.2,192.5 L156.2,193.3 L155.1,194.1 L154.0,194.9 L153.0,195.7 L151.9,196.5 L150.8,197.3 L149.7,198.1 L148.6,198.9 L147.5,199.7 L146.4,200.4 L145.3,201.2 L144.2,202.0 L143.1,202.7 L142.0,203.4 L140.9,204.2 L139.7,204.9 L138.6,205.6 L137.5,206.4 L136.4,207.1 L135.2,207.8 L134.1,208.5 L132.9,209.2 L131.8,209.9 L130.6,210.6 L129.5,211.3 L128.3,211.9 L127.2,212.6 L126.0,213.3 L124.8,214.0 L123.7,214.6 L122.5,215.3 L121.3,215.9 L120.1,216.6 L119.0,217.2 L117.8,217.9 L116.6,218.5 L115.4,219.2 L114.2,219.8 L113.1,220.5 L111.9,221.1 L110.7,221.7 L109.5,222.4 L108.3,223.0 L107.1,223.6 L105.9,224.2 L104.7,224.9 L103.5,225.5 L102.3,226.1 L101.2,226.7 L100.0,227.4 L98.8,228.0 L97.6,228.6 L96.4,229.2 L95.2,229.8 L94.0,230.4 L92.8,231.0 L91.6,231.6 L90.4,232.3 L89.2,232.9 L88.0,233.4 L86.8,234.0 L85.5,234.6 L84.3,235.2 L83.1,235.8 L81.9,236.4 L80.7,236.9 L79.5,237.5 L78.2,238.0 L77.0,238.6 L75.8,239.1 L74.6,239.6 L73.3,240.2 L72.1,240.7 L70.8,241.2 L69.6,241.7 L68.3,242.2 L67.1,242.7 L65.8,243.2 L64.6,243.7 L63.3,244.2 L62.1,244.6 L60.8,245.1 L59.6,245.6 L58.3,246.1 L57.0,246.5 L55.8,247.0 L54.5,247.5 L53.3,247.9 L52.0,248.4 L50.7,248.9 L49.5,249.4 L48.2,249.8 L47.0,250.3 L45.7,250.8 L44.5,251.3 L43.2,251.8 L41.9,252.3 L40.7,252.8 L39.5,253.3 L38.2,253.8 L37.0,254.3 L35.7,254.9 L34.5,255.4 L33.3,255.9 L32.1,256.5 L30.8,257.1 L29.6,257.6 L28.4,258.2 L27.2,258.8 L26.0,259.4" fill="none" stroke="#1212ff" stroke-width="1.15" clip-path="url(#cta)"/>
<path d="M245.7,133.7 L245.1,135.1 L244.5,136.4 L243.9,137.7 L243.3,139.1 L242.7,140.4 L242.1,141.7 L241.5,143.1 L240.9,144.4 L240.3,145.7 L239.7,147.0 L239.1,148.4 L238.5,149.7 L237.8,151.0 L237.2,152.3 L236.5,153.6 L235.9,154.9 L235.2,156.2 L234.5,157.5 L233.8,158.8 L233.2,160.1 L232.5,161.3 L231.7,162.6 L231.0,163.9 L230.3,165.1 L229.5,166.4 L228.8,167.6 L228.0,168.9 L227.2,170.1 L226.5,171.3 L225.7,172.5 L224.8,173.7 L224.0,174.9 L223.2,176.1 L222.3,177.3 L221.5,178.4 L220.6,179.6 L219.7,180.7 L218.8,181.8 L217.9,183.0 L216.9,184.1 L216.0,185.2 L215.0,186.3 L214.0,187.4 L213.1,188.4 L212.1,189.5 L211.1,190.6 L210.1,191.6 L209.0,192.6 L208.0,193.7 L207.0,194.7 L205.9,195.7 L204.9,196.7 L203.8,197.7 L202.8,198.8 L201.7,199.7 L200.6,200.7 L199.5,201.7 L198.5,202.7 L197.4,203.7 L196.3,204.6 L195.2,205.6 L194.1,206.5 L192.9,207.4 L191.8,208.4 L190.7,209.3 L189.5,210.2 L188.4,211.1 L187.3,212.0 L186.1,212.9 L184.9,213.8 L183.8,214.6 L182.6,215.5 L181.4,216.3 L180.2,217.2 L179.0,218.0 L177.8,218.8 L176.6,219.6 L175.4,220.4 L174.2,221.2 L173.0,222.0 L171.7,222.8 L170.5,223.5 L169.3,224.3 L168.0,225.0 L166.8,225.8 L165.5,226.5 L164.2,227.2 L163.0,227.9 L161.7,228.7 L160.4,229.4 L159.1,230.1 L157.9,230.8 L156.6,231.4 L155.3,232.1 L154.0,232.8 L152.7,233.5 L151.4,234.1 L150.1,234.8 L148.8,235.4 L147.5,236.1 L146.2,236.7 L144.8,237.3 L143.5,238.0 L142.2,238.6 L140.9,239.2 L139.6,239.8 L138.2,240.5 L136.9,241.1 L135.6,241.7 L134.3,242.3 L132.9,242.9 L131.6,243.5 L130.3,244.1 L128.9,244.7 L127.6,245.3 L126.3,245.9 L125.0,246.5 L123.6,247.0 L122.3,247.6 L120.9,248.2 L119.6,248.8 L118.3,249.4 L116.9,249.9 L115.6,250.5 L114.2,251.0 L112.9,251.6 L111.6,252.2 L110.2,252.7 L108.9,253.2 L107.5,253.8 L106.2,254.3 L104.8,254.9 L103.5,255.4 L102.1,255.9 L100.7,256.4 L99.4,256.9 L98.0,257.4 L96.6,257.9 L95.3,258.4 L93.9,258.9 L92.5,259.4 L91.2,259.9 L89.8,260.4 L88.4,260.8 L87.0,261.3 L85.7,261.8 L84.3,262.2 L82.9,262.7 L81.5,263.1 L80.1,263.6 L78.7,264.0 L77.4,264.5 L76.0,264.9 L74.6,265.3 L73.2,265.8 L71.8,266.2 L70.4,266.6 L69.0,267.0 L67.6,267.5 L66.2,267.9 L64.8,268.3 L63.4,268.7 L62.0,269.2 L60.6,269.6 L59.2,270.0 L57.8,270.5 L56.5,270.9 L55.1,271.3 L53.7,271.8 L52.3,272.2 L50.9,272.7 L49.5,273.1 L48.1,273.6 L46.7,274.0 L45.3,274.5 L44.0,274.9 L42.6,275.4 L41.2,275.8 L39.8,276.3 L38.4,276.7 L37.0,277.1 L35.6,277.5 L34.2,278.0 L32.8,278.4 L31.4,278.7 L30.0,279.1 L28.6,279.5 L27.2,279.8 L25.8,280.1 L24.4,280.4 L22.9,280.7 L21.5,280.9 L20.1,281.2 L18.6,281.4 L17.2,281.5 L15.7,281.7 L14.2,281.8 L12.8,281.9 L11.3,281.9" fill="none" stroke="#1212ff" stroke-width="1.15" clip-path="url(#cta)"/>
<path d="M275.3,187.2 L275.1,188.5 L274.8,189.7 L274.4,190.9 L274.0,192.1 L273.4,193.2 L272.8,194.2 L272.2,195.3 L271.5,196.3 L270.8,197.3 L270.1,198.3 L269.4,199.3 L268.6,200.3 L267.9,201.3 L267.1,202.3 L266.4,203.4 L265.7,204.4 L264.9,205.4 L264.2,206.4 L263.5,207.4 L262.8,208.4 L262.0,209.4 L261.3,210.4 L260.5,211.4 L259.8,212.4 L259.0,213.4 L258.2,214.3 L257.4,215.2 L256.6,216.2 L255.7,217.1 L254.9,218.0 L254.0,218.9 L253.1,219.7 L252.3,220.6 L251.4,221.5 L250.5,222.3 L249.6,223.1 L248.6,224.0 L247.7,224.8 L246.7,225.6 L245.8,226.4 L244.8,227.2 L243.9,228.0 L242.9,228.8 L241.9,229.6 L240.9,230.3 L239.9,231.1 L238.9,231.8 L237.8,232.6 L236.8,233.3 L235.8,234.0 L234.7,234.7 L233.7,235.4 L232.6,236.1 L231.5,236.7 L230.5,237.4 L229.4,238.0 L228.3,238.7 L227.2,239.3 L226.1,239.9 L225.0,240.5 L223.9,241.1 L222.8,241.7 L221.7,242.3 L220.6,242.9 L219.5,243.4 L218.4,244.0 L217.3,244.5 L216.1,245.0 L215.0,245.6 L213.9,246.1 L212.7,246.6 L211.6,247.1 L210.5,247.6 L209.3,248.1 L208.2,248.6 L207.1,249.1 L205.9,249.6 L204.8,250.1 L203.6,250.6 L202.5,251.1 L201.4,251.6 L200.2,252.1 L199.1,252.7 L197.9,253.2 L196.8,253.7 L195.7,254.2 L194.5,254.8 L193.4,255.3 L192.2,255.8 L191.1,256.3 L190.0,256.8 L188.8,257.4 L187.7,257.9 L186.5,258.4 L185.4,258.9 L184.2,259.4 L183.1,259.9 L181.9,260.3 L180.7,260.8 L179.6,261.3 L178.4,261.7 L177.3,262.2 L176.1,262.7 L174.9,263.1 L173.8,263.6 L172.6,264.0 L171.4,264.4 L170.2,264.9 L169.1,265.3 L167.9,265.7 L166.7,266.1 L165.5,266.5 L164.4,266.9 L163.2,267.3 L162.0,267.7 L160.8,268.1 L159.6,268.5 L158.4,268.9 L157.2,269.3 L156.0,269.6 L154.8,270.0 L153.7,270.4 L152.5,270.7 L151.3,271.1 L150.1,271.4 L148.9,271.8 L147.7,272.1 L146.5,272.5 L145.3,272.8 L144.1,273.2 L142.8,273.5 L141.6,273.8 L140.4,274.1 L139.2,274.5 L138.0,274.8 L136.8,275.1 L135.6,275.4 L134.4,275.7 L133.2,276.0 L132.0,276.3 L130.8,276.6 L129.5,276.9 L128.3,277.2 L127.1,277.5 L125.9,277.8 L124.7,278.1 L123.5,278.4 L122.2,278.7 L121.0,278.9 L119.8,279.2 L118.6,279.5 L117.4,279.8 L116.1,280.0 L114.9,280.3 L113.7,280.6 L112.5,280.8 L111.3,281.1 L110.0,281.4 L108.8,281.6 L107.6,281.9 L106.4,282.1 L105.1,282.4 L103.9,282.6 L102.7,282.9 L101.5,283.2 L100.2,283.4 L99.0,283.7 L97.8,283.9 L96.6,284.2 L95.3,284.4 L94.1,284.7 L92.9,285.0 L91.7,285.2 L90.5,285.5 L89.2,285.7 L88.0,286.0 L86.8,286.3 L85.6,286.6 L84.4,286.8 L83.2,287.1 L81.9,287.4 L80.7,287.7 L79.5,288.0 L78.3,288.3 L77.1,288.6 L75.9,288.9 L74.7,289.2 L73.5,289.6 L72.2,289.9 L71.0,290.2 L69.8,290.6 L68.6,290.9 L67.4,291.3 L66.2,291.7 L65.0,292.0 L63.8,292.4 L62.6,292.8 L61.4,293.1 L60.2,293.5" fill="none" stroke="#1212ff" stroke-width="1.15" clip-path="url(#cta)"/>
<polygon points="173.5,22.8 6.8,292.4 340.6,292.4" fill="none" stroke="#141414" stroke-width="1.2" stroke-linejoin="miter"/>
<rect x="116.15" y="113.75" width="46.50" height="7.90" fill="#fff" stroke="#1414ff" stroke-width="1.3"/>
<text x="118.5" y="120.6" font-family="'Liberation Sans', Arial, sans-serif" font-size="8.6" font-weight="normal" textLength="42.8" lengthAdjust="spacingAndGlyphs" fill="#000">26.0506</text>
<rect x="116.35" y="156.35" width="46.20" height="8.60" fill="#fff" stroke="#1414ff" stroke-width="1.3"/>
<text x="118.7" y="163.9" font-family="'Liberation Sans', Arial, sans-serif" font-size="8.6" font-weight="normal" textLength="42.5" lengthAdjust="spacingAndGlyphs" fill="#000">20.5933</text>
<rect x="127.85" y="189.15" width="39.60" height="8.20" fill="#fff" stroke="#1414ff" stroke-width="1.3"/>
<text x="130.2" y="196.3" font-family="'Liberation Sans', Arial, sans-serif" font-size="8.6" font-weight="normal" textLength="35.9" lengthAdjust="spacingAndGlyphs" fill="#000">15.136</text>
<rect x="132.55" y="221.85" width="45.80" height="8.50" fill="#fff" stroke="#1414ff" stroke-width="1.3"/>
<text x="134.9" y="229.3" font-family="'Liberation Sans', Arial, sans-serif" font-size="8.6" font-weight="normal" textLength="42.1" lengthAdjust="spacingAndGlyphs" fill="#000">9.67867</text>
<rect x="176.95" y="242.75" width="46.00" height="8.10" fill="#fff" stroke="#1414ff" stroke-width="1.3"/>
<text x="179.3" y="249.8" font-family="'Liberation Sans', Arial, sans-serif" font-size="8.6" font-weight="normal" textLength="42.3" lengthAdjust="spacingAndGlyphs" fill="#000">4.22136</text>
<circle cx="172.8" cy="22.8" r="2.5" fill="#f00000" stroke="#2a1a1a" stroke-width="0.9"/>
<circle cx="172.7" cy="114.1" r="2.5" fill="#f00000" stroke="#2a1a1a" stroke-width="0.9"/>
<circle cx="89.7" cy="157.4" r="2.5" fill="#f00000" stroke="#2a1a1a" stroke-width="0.9"/>
<circle cx="256.6" cy="157.8" r="2.5" fill="#f00000" stroke="#2a1a1a" stroke-width="0.9"/>
<circle cx="173.1" cy="202" r="2.5" fill="#f00000" stroke="#2a1a1a" stroke-width="0.9"/>
<circle cx="91.2" cy="246.4" r="2.5" fill="#f00000" stroke="#2a1a1a" stroke-width="0.9"/>
<circle cx="254.8" cy="246.4" r="2.5" fill="#f00000" stroke="#2a1a1a" stroke-width="0.9"/>
<circle cx="5.6" cy="292.3" r="2.5" fill="#f00000" stroke="#2a1a1a" stroke-width="0.9"/>
<circle cx="173.2" cy="292.3" r="2.5" fill="#f00000" stroke="#2a1a1a" stroke-width="0.9"/>
<circle cx="340.2" cy="292.4" r="2.5" fill="#f00000" stroke="#2a1a1a" stroke-width="0.9"/>
<polygon points="548.2,27.0 389.3,291.3 708.0,291.3" fill="#e6e6e6"/>
<g clip-path="url(#ctb)" shape-rendering="crispEdges">
<rect x="389.30" y="27.00" width="16.23" height="13.52" fill="rgb(200,200,200)"/>
<rect x="405.24" y="27.00" width="16.23" height="13.52" fill="rgb(203,203,203)"/>
<rect x="421.17" y="27.00" width="16.23" height="13.52" fill="rgb(207,207,207)"/>
<rect x="437.11" y="27.00" width="16.23" height="13.52" fill="rgb(212,212,212)"/>
<rect x="453.04" y="27.00" width="16.23" height="13.52" fill="rgb(216,216,216)"/>
<rect x="468.98" y="27.00" width="16.23" height="13.52" fill="rgb(221,221,221)"/>
<rect x="484.91" y="27.00" width="16.23" height="13.52" fill="rgb(225,225,225)"/>
<rect x="500.85" y="27.00" width="16.23" height="13.52" fill="rgb(226,226,226)"/>
<rect x="516.78" y="27.00" width="16.23" height="13.52" fill="rgb(222,222,222)"/>
<rect x="532.72" y="27.00" width="16.23" height="13.52" fill="rgb(212,212,212)"/>
<rect x="548.65" y="27.00" width="16.23" height="13.52" fill="rgb(212,212,212)"/>
<rect x="564.59" y="27.00" width="16.23" height="13.52" fill="rgb(222,222,222)"/>
<rect x="580.52" y="27.00" width="16.23" height="13.52" fill="rgb(224,224,224)"/>
<rect x="596.45" y="27.00" width="16.23" height="13.52" fill="rgb(222,222,222)"/>
<rect x="612.39" y="27.00" width="16.23" height="13.52" fill="rgb(218,218,218)"/>
<rect x="628.33" y="27.00" width="16.23" height="13.52" fill="rgb(214,214,214)"/>
<rect x="644.26" y="27.00" width="16.23" height="13.52" fill="rgb(209,209,209)"/>
<rect x="660.19" y="27.00" width="16.23" height="13.52" fill="rgb(205,205,205)"/>
<rect x="676.13" y="27.00" width="16.23" height="13.52" fill="rgb(201,201,201)"/>
<rect x="692.07" y="27.00" width="16.23" height="13.52" fill="rgb(197,197,197)"/>
<rect x="389.30" y="40.22" width="16.23" height="13.52" fill="rgb(197,197,197)"/>
<rect x="405.24" y="40.22" width="16.23" height="13.52" fill="rgb(200,200,200)"/>
<rect x="421.17" y="40.22" width="16.23" height="13.52" fill="rgb(204,204,204)"/>
<rect x="437.11" y="40.22" width="16.23" height="13.52" fill="rgb(208,208,208)"/>
<rect x="453.04" y="40.22" width="16.23" height="13.52" fill="rgb(213,213,213)"/>
<rect x="468.98" y="40.22" width="16.23" height="13.52" fill="rgb(217,217,217)"/>
<rect x="484.91" y="40.22" width="16.23" height="13.52" fill="rgb(222,222,222)"/>
<rect x="500.85" y="40.22" width="16.23" height="13.52" fill="rgb(225,225,225)"/>
<rect x="516.78" y="40.22" width="16.23" height="13.52" fill="rgb(225,225,225)"/>
<rect x="532.72" y="40.22" width="16.23" height="13.52" fill="rgb(224,224,224)"/>
<rect x="548.65" y="40.22" width="16.23" height="13.52" fill="rgb(223,223,223)"/>
<rect x="564.59" y="40.22" width="16.23" height="13.52" fill="rgb(224,224,224)"/>
<rect x="580.52" y="40.22" width="16.23" height="13.52" fill="rgb(223,223,223)"/>
<rect x="596.45" y="40.22" width="16.23" height="13.52" fill="rgb(220,220,220)"/>
<rect x="612.39" y="40.22" width="16.23" height="13.52" fill="rgb(215,215,215)"/>
<rect x="628.33" y="40.22" width="16.23" height="13.52" fill="rgb(210,210,210)"/>
<rect x="644.26" y="40.22" width="16.23" height="13.52" fill="rgb(205,205,205)"/>
<rect x="660.19" y="40.22" width="16.23" height="13.52" fill="rgb(201,201,201)"/>
<rect x="676.13" y="40.22" width="16.23" height="13.52" fill="rgb(197,197,197)"/>
<rect x="692.07" y="40.22" width="16.23" height="13.52" fill="rgb(194,194,194)"/>
<rect x="389.30" y="53.43" width="16.23" height="13.52" fill="rgb(194,194,194)"/>
<rect x="405.24" y="53.43" width="16.23" height="13.52" fill="rgb(197,197,197)"/>
<rect x="421.17" y="53.43" width="16.23" height="13.52" fill="rgb(200,200,200)"/>
<rect x="437.11" y="53.43" width="16.23" height="13.52" fill="rgb(204,204,204)"/>
<rect x="453.04" y="53.43" width="16.23" height="13.52" fill="rgb(208,208,208)"/>
<rect x="468.98" y="53.43" width="16.23" height="13.52" fill="rgb(213,213,213)"/>
<rect x="484.91" y="53.43" width="16.23" height="13.52" fill="rgb(219,219,219)"/>
<rect x="500.85" y="53.43" width="16.23" height="13.52" fill="rgb(223,223,223)"/>
<rect x="516.78" y="53.43" width="16.23" height="13.52" fill="rgb(226,226,226)"/>
<rect x="532.72" y="53.43" width="16.23" height="13.52" fill="rgb(237,237,237)"/>
<rect x="548.65" y="53.43" width="16.23" height="13.52" fill="rgb(236,236,236)"/>
<rect x="564.59" y="53.43" width="16.23" height="13.52" fill="rgb(224,224,224)"/>
<rect x="580.52" y="53.43" width="16.23" height="13.52" fill="rgb(221,221,221)"/>
<rect x="596.45" y="53.43" width="16.23" height="13.52" fill="rgb(216,216,216)"/>
<rect x="612.39" y="53.43" width="16.23" height="13.52" fill="rgb(211,211,211)"/>
<rect x="628.33" y="53.43" width="16.23" height="13.52" fill="rgb(206,206,206)"/>
<rect x="644.26" y="53.43" width="16.23" height="13.52" fill="rgb(201,201,201)"/>
<rect x="660.19" y="53.43" width="16.23" height="13.52" fill="rgb(197,197,197)"/>
<rect x="676.13" y="53.43" width="16.23" height="13.52" fill="rgb(194,194,194)"/>
<rect x="692.07" y="53.43" width="16.23" height="13.52" fill="rgb(192,192,192)"/>
<rect x="389.30" y="66.64" width="16.23" height="13.52" fill="rgb(192,192,192)"/>
<rect x="405.24" y="66.64" width="16.23" height="13.52" fill="rgb(194,194,194)"/>
<rect x="421.17" y="66.64" width="16.23" height="13.52" fill="rgb(197,197,197)"/>
<rect x="437.11" y="66.64" width="16.23" height="13.52" fill="rgb(200,200,200)"/>
<rect x="453.04" y="66.64" width="16.23" height="13.52" fill="rgb(204,204,204)"/>
<rect x="468.98" y="66.64" width="16.23" height="13.52" fill="rgb(209,209,209)"/>
<rect x="484.91" y="66.64" width="16.23" height="13.52" fill="rgb(214,214,214)"/>
<rect x="500.85" y="66.64" width="16.23" height="13.52" fill="rgb(220,220,220)"/>
<rect x="516.78" y="66.64" width="16.23" height="13.52" fill="rgb(230,230,230)"/>
<rect x="532.72" y="66.64" width="16.23" height="13.52" fill="rgb(246,246,246)"/>
<rect x="548.65" y="66.64" width="16.23" height="13.52" fill="rgb(245,245,245)"/>
<rect x="564.59" y="66.64" width="16.23" height="13.52" fill="rgb(227,227,227)"/>
<rect x="580.52" y="66.64" width="16.23" height="13.52" fill="rgb(217,217,217)"/>
<rect x="596.45" y="66.64" width="16.23" height="13.52" fill="rgb(212,212,212)"/>
<rect x="612.39" y="66.64" width="16.23" height="13.52" fill="rgb(206,206,206)"/>
<rect x="628.33" y="66.64" width="16.23" height="13.52" fill="rgb(201,201,201)"/>
<rect x="644.26" y="66.64" width="16.23" height="13.52" fill="rgb(197,197,197)"/>
<rect x="660.19" y="66.64" width="16.23" height="13.52" fill="rgb(194,194,194)"/>
<rect x="676.13" y="66.64" width="16.23" height="13.52" fill="rgb(191,191,191)"/>
<rect x="692.07" y="66.64" width="16.23" height="13.52" fill="rgb(189,189,189)"/>
<rect x="389.30" y="79.86" width="16.23" height="13.52" fill="rgb(190,190,190)"/>
<rect x="405.24" y="79.86" width="16.23" height="13.52" fill="rgb(191,191,191)"/>
<rect x="421.17" y="79.86" width="16.23" height="13.52" fill="rgb(193,193,193)"/>
<rect x="437.11" y="79.86" width="16.23" height="13.52" fill="rgb(196,196,196)"/>
<rect x="453.04" y="79.86" width="16.23" height="13.52" fill="rgb(200,200,200)"/>
<rect x="468.98" y="79.86" width="16.23" height="13.52" fill="rgb(204,204,204)"/>
<rect x="484.91" y="79.86" width="16.23" height="13.52" fill="rgb(210,210,210)"/>
<rect x="500.85" y="79.86" width="16.23" height="13.52" fill="rgb(215,215,215)"/>
<rect x="516.78" y="79.86" width="16.23" height="13.52" fill="rgb(236,236,236)"/>
<rect x="532.72" y="79.86" width="16.23" height="13.52" fill="rgb(251,251,251)"/>
<rect x="548.65" y="79.86" width="16.23" height="13.52" fill="rgb(250,250,250)"/>
<rect x="564.59" y="79.86" width="16.23" height="13.52" fill="rgb(233,233,233)"/>
<rect x="580.52" y="79.86" width="16.23" height="13.52" fill="rgb(213,213,213)"/>
<rect x="596.45" y="79.86" width="16.23" height="13.52" fill="rgb(207,207,207)"/>
<rect x="612.39" y="79.86" width="16.23" height="13.52" fill="rgb(202,202,202)"/>
<rect x="628.33" y="79.86" width="16.23" height="13.52" fill="rgb(197,197,197)"/>
<rect x="644.26" y="79.86" width="16.23" height="13.52" fill="rgb(194,194,194)"/>
<rect x="660.19" y="79.86" width="16.23" height="13.52" fill="rgb(191,191,191)"/>
<rect x="676.13" y="79.86" width="16.23" height="13.52" fill="rgb(189,189,189)"/>
<rect x="692.07" y="79.86" width="16.23" height="13.52" fill="rgb(187,187,187)"/>
<rect x="389.30" y="93.08" width="16.23" height="13.52" fill="rgb(188,188,188)"/>
<rect x="405.24" y="93.08" width="16.23" height="13.52" fill="rgb(189,189,189)"/>
<rect x="421.17" y="93.08" width="16.23" height="13.52" fill="rgb(191,191,191)"/>
<rect x="437.11" y="93.08" width="16.23" height="13.52" fill="rgb(193,193,193)"/>
<rect x="453.04" y="93.08" width="16.23" height="13.52" fill="rgb(196,196,196)"/>
<rect x="468.98" y="93.08" width="16.23" height="13.52" fill="rgb(200,200,200)"/>
<rect x="484.91" y="93.08" width="16.23" height="13.52" fill="rgb(205,205,205)"/>
<rect x="500.85" y="93.08" width="16.23" height="13.52" fill="rgb(216,216,216)"/>
<rect x="516.78" y="93.08" width="16.23" height="13.52" fill="rgb(239,239,239)"/>
<rect x="532.72" y="93.08" width="16.23" height="13.52" fill="rgb(253,253,253)"/>
<rect x="548.65" y="93.08" width="16.23" height="13.52" fill="rgb(251,251,251)"/>
<rect x="564.59" y="93.08" width="16.23" height="13.52" fill="rgb(236,236,236)"/>
<rect x="580.52" y="93.08" width="16.23" height="13.52" fill="rgb(213,213,213)"/>
<rect x="596.45" y="93.08" width="16.23" height="13.52" fill="rgb(202,202,202)"/>
<rect x="612.39" y="93.08" width="16.23" height="13.52" fill="rgb(197,197,197)"/>
<rect x="628.33" y="93.08" width="16.23" height="13.52" fill="rgb(194,194,194)"/>
<rect x="644.26" y="93.08" width="16.23" height="13.52" fill="rgb(191,191,191)"/>
<rect x="660.19" y="93.08" width="16.23" height="13.52" fill="rgb(189,189,189)"/>
<rect x="676.13" y="93.08" width="16.23" height="13.52" fill="rgb(187,187,187)"/>
<rect x="692.07" y="93.08" width="16.23" height="13.52" fill="rgb(186,186,186)"/>
<rect x="389.30" y="106.29" width="16.23" height="13.52" fill="rgb(188,188,188)"/>
<rect x="405.24" y="106.29" width="16.23" height="13.52" fill="rgb(188,188,188)"/>
<rect x="421.17" y="106.29" width="16.23" height="13.52" fill="rgb(189,189,189)"/>
<rect x="437.11" y="106.29" width="16.23" height="13.52" fill="rgb(191,191,191)"/>
<rect x="453.04" y="106.29" width="16.23" height="13.52" fill="rgb(193,193,193)"/>
<rect x="468.98" y="106.29" width="16.23" height="13.52" fill="rgb(196,196,196)"/>
<rect x="484.91" y="106.29" width="16.23" height="13.52" fill="rgb(200,200,200)"/>
<rect x="500.85" y="106.29" width="16.23" height="13.52" fill="rgb(220,220,220)"/>
<rect x="516.78" y="106.29" width="16.23" height="13.52" fill="rgb(240,240,240)"/>
<rect x="532.72" y="106.29" width="16.23" height="13.52" fill="rgb(252,252,252)"/>
<rect x="548.65" y="106.29" width="16.23" height="13.52" fill="rgb(251,251,251)"/>
<rect x="564.59" y="106.29" width="16.23" height="13.52" fill="rgb(238,238,238)"/>
<rect x="580.52" y="106.29" width="16.23" height="13.52" fill="rgb(217,217,217)"/>
<rect x="596.45" y="106.29" width="16.23" height="13.52" fill="rgb(197,197,197)"/>
<rect x="612.39" y="106.29" width="16.23" height="13.52" fill="rgb(193,193,193)"/>
<rect x="628.33" y="106.29" width="16.23" height="13.52" fill="rgb(190,190,190)"/>
<rect x="644.26" y="106.29" width="16.23" height="13.52" fill="rgb(188,188,188)"/>
<rect x="660.19" y="106.29" width="16.23" height="13.52" fill="rgb(187,187,187)"/>
<rect x="676.13" y="106.29" width="16.23" height="13.52" fill="rgb(186,186,186)"/>
<rect x="692.07" y="106.29" width="16.23" height="13.52" fill="rgb(186,186,186)"/>
<rect x="389.30" y="119.50" width="16.23" height="13.52" fill="rgb(188,188,188)"/>
<rect x="405.24" y="119.50" width="16.23" height="13.52" fill="rgb(187,187,187)"/>
<rect x="421.17" y="119.50" width="16.23" height="13.52" fill="rgb(188,188,188)"/>
<rect x="437.11" y="119.50" width="16.23" height="13.52" fill="rgb(189,189,189)"/>
<rect x="453.04" y="119.50" width="16.23" height="13.52" fill="rgb(190,190,190)"/>
<rect x="468.98" y="119.50" width="16.23" height="13.52" fill="rgb(192,192,192)"/>
<rect x="484.91" y="119.50" width="16.23" height="13.52" fill="rgb(201,201,201)"/>
<rect x="500.85" y="119.50" width="16.23" height="13.52" fill="rgb(224,224,224)"/>
<rect x="516.78" y="119.50" width="16.23" height="13.52" fill="rgb(241,241,241)"/>
<rect x="532.72" y="119.50" width="16.23" height="13.52" fill="rgb(251,251,251)"/>
<rect x="548.65" y="119.50" width="16.23" height="13.52" fill="rgb(250,250,250)"/>
<rect x="564.59" y="119.50" width="16.23" height="13.52" fill="rgb(239,239,239)"/>
<rect x="580.52" y="119.50" width="16.23" height="13.52" fill="rgb(221,221,221)"/>
<rect x="596.45" y="119.50" width="16.23" height="13.52" fill="rgb(198,198,198)"/>
<rect x="612.39" y="119.50" width="16.23" height="13.52" fill="rgb(190,190,190)"/>
<rect x="628.33" y="119.50" width="16.23" height="13.52" fill="rgb(188,188,188)"/>
<rect x="644.26" y="119.50" width="16.23" height="13.52" fill="rgb(186,186,186)"/>
<rect x="660.19" y="119.50" width="16.23" height="13.52" fill="rgb(186,186,186)"/>
<rect x="676.13" y="119.50" width="16.23" height="13.52" fill="rgb(186,186,186)"/>
<rect x="692.07" y="119.50" width="16.23" height="13.52" fill="rgb(186,186,186)"/>
<rect x="389.30" y="132.72" width="16.23" height="13.52" fill="rgb(188,188,188)"/>
<rect x="405.24" y="132.72" width="16.23" height="13.52" fill="rgb(188,188,188)"/>
<rect x="421.17" y="132.72" width="16.23" height="13.52" fill="rgb(187,187,187)"/>
<rect x="437.11" y="132.72" width="16.23" height="13.52" fill="rgb(188,188,188)"/>
<rect x="453.04" y="132.72" width="16.23" height="13.52" fill="rgb(188,188,188)"/>
<rect x="468.98" y="132.72" width="16.23" height="13.52" fill="rgb(190,190,190)"/>
<rect x="484.91" y="132.72" width="16.23" height="13.52" fill="rgb(207,207,207)"/>
<rect x="500.85" y="132.72" width="16.23" height="13.52" fill="rgb(227,227,227)"/>
<rect x="516.78" y="132.72" width="16.23" height="13.52" fill="rgb(242,242,242)"/>
<rect x="532.72" y="132.72" width="16.23" height="13.52" fill="rgb(250,250,250)"/>
<rect x="548.65" y="132.72" width="16.23" height="13.52" fill="rgb(249,249,249)"/>
<rect x="564.59" y="132.72" width="16.23" height="13.52" fill="rgb(240,240,240)"/>
<rect x="580.52" y="132.72" width="16.23" height="13.52" fill="rgb(225,225,225)"/>
<rect x="596.45" y="132.72" width="16.23" height="13.52" fill="rgb(205,205,205)"/>
<rect x="612.39" y="132.72" width="16.23" height="13.52" fill="rgb(187,187,187)"/>
<rect x="628.33" y="132.72" width="16.23" height="13.52" fill="rgb(186,186,186)"/>
<rect x="644.26" y="132.72" width="16.23" height="13.52" fill="rgb(186,186,186)"/>
<rect x="660.19" y="132.72" width="16.23" height="13.52" fill="rgb(186,186,186)"/>
<rect x="676.13" y="132.72" width="16.23" height="13.52" fill="rgb(186,186,186)"/>
<rect x="692.07" y="132.72" width="16.23" height="13.52" fill="rgb(187,187,187)"/>
<rect x="389.30" y="145.94" width="16.23" height="13.52" fill="rgb(190,190,190)"/>
<rect x="405.24" y="145.94" width="16.23" height="13.52" fill="rgb(189,189,189)"/>
<rect x="421.17" y="145.94" width="16.23" height="13.52" fill="rgb(188,188,188)"/>
<rect x="437.11" y="145.94" width="16.23" height="13.52" fill="rgb(188,188,188)"/>
<rect x="453.04" y="145.94" width="16.23" height="13.52" fill="rgb(187,187,187)"/>
<rect x="468.98" y="145.94" width="16.23" height="13.52" fill="rgb(194,194,194)"/>
<rect x="484.91" y="145.94" width="16.23" height="13.52" fill="rgb(214,214,214)"/>
<rect x="500.85" y="145.94" width="16.23" height="13.52" fill="rgb(230,230,230)"/>
<rect x="516.78" y="145.94" width="16.23" height="13.52" fill="rgb(243,243,243)"/>
<rect x="532.72" y="145.94" width="16.23" height="13.52" fill="rgb(249,249,249)"/>
<rect x="548.65" y="145.94" width="16.23" height="13.52" fill="rgb(249,249,249)"/>
<rect x="564.59" y="145.94" width="16.23" height="13.52" fill="rgb(241,241,241)"/>
<rect x="580.52" y="145.94" width="16.23" height="13.52" fill="rgb(229,229,229)"/>
<rect x="596.45" y="145.94" width="16.23" height="13.52" fill="rgb(211,211,211)"/>
<rect x="612.39" y="145.94" width="16.23" height="13.52" fill="rgb(191,191,191)"/>
<rect x="628.33" y="145.94" width="16.23" height="13.52" fill="rgb(186,186,186)"/>
<rect x="644.26" y="145.94" width="16.23" height="13.52" fill="rgb(186,186,186)"/>
<rect x="660.19" y="145.94" width="16.23" height="13.52" fill="rgb(186,186,186)"/>
<rect x="676.13" y="145.94" width="16.23" height="13.52" fill="rgb(187,187,187)"/>
<rect x="692.07" y="145.94" width="16.23" height="13.52" fill="rgb(188,188,188)"/>
<rect x="389.30" y="159.15" width="16.23" height="13.52" fill="rgb(193,193,193)"/>
<rect x="405.24" y="159.15" width="16.23" height="13.52" fill="rgb(191,191,191)"/>
<rect x="421.17" y="159.15" width="16.23" height="13.52" fill="rgb(190,190,190)"/>
<rect x="437.11" y="159.15" width="16.23" height="13.52" fill="rgb(189,189,189)"/>
<rect x="453.04" y="159.15" width="16.23" height="13.52" fill="rgb(188,188,188)"/>
<rect x="468.98" y="159.15" width="16.23" height="13.52" fill="rgb(203,203,203)"/>
<rect x="484.91" y="159.15" width="16.23" height="13.52" fill="rgb(220,220,220)"/>
<rect x="500.85" y="159.15" width="16.23" height="13.52" fill="rgb(234,234,234)"/>
<rect x="516.78" y="159.15" width="16.23" height="13.52" fill="rgb(244,244,244)"/>
<rect x="532.72" y="159.15" width="16.23" height="13.52" fill="rgb(249,249,249)"/>
<rect x="548.65" y="159.15" width="16.23" height="13.52" fill="rgb(249,249,249)"/>
<rect x="564.59" y="159.15" width="16.23" height="13.52" fill="rgb(243,243,243)"/>
<rect x="580.52" y="159.15" width="16.23" height="13.52" fill="rgb(233,233,233)"/>
<rect x="596.45" y="159.15" width="16.23" height="13.52" fill="rgb(218,218,218)"/>
<rect x="612.39" y="159.15" width="16.23" height="13.52" fill="rgb(201,201,201)"/>
<rect x="628.33" y="159.15" width="16.23" height="13.52" fill="rgb(186,186,186)"/>
<rect x="644.26" y="159.15" width="16.23" height="13.52" fill="rgb(187,187,187)"/>
<rect x="660.19" y="159.15" width="16.23" height="13.52" fill="rgb(188,188,188)"/>
<rect x="676.13" y="159.15" width="16.23" height="13.52" fill="rgb(190,190,190)"/>
<rect x="692.07" y="159.15" width="16.23" height="13.52" fill="rgb(191,191,191)"/>
<rect x="389.30" y="172.37" width="16.23" height="13.52" fill="rgb(197,197,197)"/>
<rect x="405.24" y="172.37" width="16.23" height="13.52" fill="rgb(195,195,195)"/>
<rect x="421.17" y="172.37" width="16.23" height="13.52" fill="rgb(193,193,193)"/>
<rect x="437.11" y="172.37" width="16.23" height="13.52" fill="rgb(191,191,191)"/>
<rect x="453.04" y="172.37" width="16.23" height="13.52" fill="rgb(195,195,195)"/>
<rect x="468.98" y="172.37" width="16.23" height="13.52" fill="rgb(213,213,213)"/>
<rect x="484.91" y="172.37" width="16.23" height="13.52" fill="rgb(228,228,228)"/>
<rect x="500.85" y="172.37" width="16.23" height="13.52" fill="rgb(239,239,239)"/>
<rect x="516.78" y="172.37" width="16.23" height="13.52" fill="rgb(246,246,246)"/>
<rect x="532.72" y="172.37" width="16.23" height="13.52" fill="rgb(250,250,250)"/>
<rect x="548.65" y="172.37" width="16.23" height="13.52" fill="rgb(249,249,249)"/>
<rect x="564.59" y="172.37" width="16.23" height="13.52" fill="rgb(245,245,245)"/>
<rect x="580.52" y="172.37" width="16.23" height="13.52" fill="rgb(237,237,237)"/>
<rect x="596.45" y="172.37" width="16.23" height="13.52" fill="rgb(226,226,226)"/>
<rect x="612.39" y="172.37" width="16.23" height="13.52" fill="rgb(211,211,211)"/>
<rect x="628.33" y="172.37" width="16.23" height="13.52" fill="rgb(193,193,193)"/>
<rect x="644.26" y="172.37" width="16.23" height="13.52" fill="rgb(189,189,189)"/>
<rect x="660.19" y="172.37" width="16.23" height="13.52" fill="rgb(191,191,191)"/>
<rect x="676.13" y="172.37" width="16.23" height="13.52" fill="rgb(193,193,193)"/>
<rect x="692.07" y="172.37" width="16.23" height="13.52" fill="rgb(195,195,195)"/>
<rect x="389.30" y="185.58" width="16.23" height="13.52" fill="rgb(201,201,201)"/>
<rect x="405.24" y="185.58" width="16.23" height="13.52" fill="rgb(199,199,199)"/>
<rect x="421.17" y="185.58" width="16.23" height="13.52" fill="rgb(197,197,197)"/>
<rect x="437.11" y="185.58" width="16.23" height="13.52" fill="rgb(195,195,195)"/>
<rect x="453.04" y="185.58" width="16.23" height="13.52" fill="rgb(208,208,208)"/>
<rect x="468.98" y="185.58" width="16.23" height="13.52" fill="rgb(223,223,223)"/>
<rect x="484.91" y="185.58" width="16.23" height="13.52" fill="rgb(235,235,235)"/>
<rect x="500.85" y="185.58" width="16.23" height="13.52" fill="rgb(243,243,243)"/>
<rect x="516.78" y="185.58" width="16.23" height="13.52" fill="rgb(248,248,248)"/>
<rect x="532.72" y="185.58" width="16.23" height="13.52" fill="rgb(250,250,250)"/>
<rect x="548.65" y="185.58" width="16.23" height="13.52" fill="rgb(250,250,250)"/>
<rect x="564.59" y="185.58" width="16.23" height="13.52" fill="rgb(247,247,247)"/>
<rect x="580.52" y="185.58" width="16.23" height="13.52" fill="rgb(242,242,242)"/>
<rect x="596.45" y="185.58" width="16.23" height="13.52" fill="rgb(234,234,234)"/>
<rect x="612.39" y="185.58" width="16.23" height="13.52" fill="rgb(222,222,222)"/>
<rect x="628.33" y="185.58" width="16.23" height="13.52" fill="rgb(207,207,207)"/>
<rect x="644.26" y="185.58" width="16.23" height="13.52" fill="rgb(193,193,193)"/>
<rect x="660.19" y="185.58" width="16.23" height="13.52" fill="rgb(196,196,196)"/>
<rect x="676.13" y="185.58" width="16.23" height="13.52" fill="rgb(198,198,198)"/>
<rect x="692.07" y="185.58" width="16.23" height="13.52" fill="rgb(200,200,200)"/>
<rect x="389.30" y="198.79" width="16.23" height="13.52" fill="rgb(207,207,207)"/>
<rect x="405.24" y="198.79" width="16.23" height="13.52" fill="rgb(205,205,205)"/>
<rect x="421.17" y="198.79" width="16.23" height="13.52" fill="rgb(203,203,203)"/>
<rect x="437.11" y="198.79" width="16.23" height="13.52" fill="rgb(206,206,206)"/>
<rect x="453.04" y="198.79" width="16.23" height="13.52" fill="rgb(222,222,222)"/>
<rect x="468.98" y="198.79" width="16.23" height="13.52" fill="rgb(234,234,234)"/>
<rect x="484.91" y="198.79" width="16.23" height="13.52" fill="rgb(242,242,242)"/>
<rect x="500.85" y="198.79" width="16.23" height="13.52" fill="rgb(247,247,247)"/>
<rect x="516.78" y="198.79" width="16.23" height="13.52" fill="rgb(249,249,249)"/>
<rect x="532.72" y="198.79" width="16.23" height="13.52" fill="rgb(251,251,251)"/>
<rect x="548.65" y="198.79" width="16.23" height="13.52" fill="rgb(251,251,251)"/>
<rect x="564.59" y="198.79" width="16.23" height="13.52" fill="rgb(249,249,249)"/>
<rect x="580.52" y="198.79" width="16.23" height="13.52" fill="rgb(246,246,246)"/>
<rect x="596.45" y="198.79" width="16.23" height="13.52" fill="rgb(241,241,241)"/>
<rect x="612.39" y="198.79" width="16.23" height="13.52" fill="rgb(233,233,233)"/>
<rect x="628.33" y="198.79" width="16.23" height="13.52" fill="rgb(220,220,220)"/>
<rect x="644.26" y="198.79" width="16.23" height="13.52" fill="rgb(204,204,204)"/>
<rect x="660.19" y="198.79" width="16.23" height="13.52" fill="rgb(201,201,201)"/>
<rect x="676.13" y="198.79" width="16.23" height="13.52" fill="rgb(203,203,203)"/>
<rect x="692.07" y="198.79" width="16.23" height="13.52" fill="rgb(205,205,205)"/>
<rect x="389.30" y="212.01" width="16.23" height="13.52" fill="rgb(213,213,213)"/>
<rect x="405.24" y="212.01" width="16.23" height="13.52" fill="rgb(211,211,211)"/>
<rect x="421.17" y="212.01" width="16.23" height="13.52" fill="rgb(209,209,209)"/>
<rect x="437.11" y="212.01" width="16.23" height="13.52" fill="rgb(222,222,222)"/>
<rect x="453.04" y="212.01" width="16.23" height="13.52" fill="rgb(235,235,235)"/>
<rect x="468.98" y="212.01" width="16.23" height="13.52" fill="rgb(243,243,243)"/>
<rect x="484.91" y="212.01" width="16.23" height="13.52" fill="rgb(247,247,247)"/>
<rect x="500.85" y="212.01" width="16.23" height="13.52" fill="rgb(249,249,249)"/>
<rect x="516.78" y="212.01" width="16.23" height="13.52" fill="rgb(250,250,250)"/>
<rect x="532.72" y="212.01" width="16.23" height="13.52" fill="rgb(250,250,250)"/>
<rect x="548.65" y="212.01" width="16.23" height="13.52" fill="rgb(250,250,250)"/>
<rect x="564.59" y="212.01" width="16.23" height="13.52" fill="rgb(250,250,250)"/>
<rect x="580.52" y="212.01" width="16.23" height="13.52" fill="rgb(249,249,249)"/>
<rect x="596.45" y="212.01" width="16.23" height="13.52" fill="rgb(247,247,247)"/>
<rect x="612.39" y="212.01" width="16.23" height="13.52" fill="rgb(242,242,242)"/>
<rect x="628.33" y="212.01" width="16.23" height="13.52" fill="rgb(234,234,234)"/>
<rect x="644.26" y="212.01" width="16.23" height="13.52" fill="rgb(220,220,220)"/>
<rect x="660.19" y="212.01" width="16.23" height="13.52" fill="rgb(208,208,208)"/>
<rect x="676.13" y="212.01" width="16.23" height="13.52" fill="rgb(210,210,210)"/>
<rect x="692.07" y="212.01" width="16.23" height="13.52" fill="rgb(211,211,211)"/>
<rect x="389.30" y="225.22" width="16.23" height="13.52" fill="rgb(219,219,219)"/>
<rect x="405.24" y="225.22" width="16.23" height="13.52" fill="rgb(218,218,218)"/>
<rect x="421.17" y="225.22" width="16.23" height="13.52" fill="rgb(221,221,221)"/>
<rect x="437.11" y="225.22" width="16.23" height="13.52" fill="rgb(237,237,237)"/>
<rect x="453.04" y="225.22" width="16.23" height="13.52" fill="rgb(246,246,246)"/>
<rect x="468.98" y="225.22" width="16.23" height="13.52" fill="rgb(250,250,250)"/>
<rect x="484.91" y="225.22" width="16.23" height="13.52" fill="rgb(250,250,250)"/>
<rect x="500.85" y="225.22" width="16.23" height="13.52" fill="rgb(249,249,249)"/>
<rect x="516.78" y="225.22" width="16.23" height="13.52" fill="rgb(247,247,247)"/>
<rect x="532.72" y="225.22" width="16.23" height="13.52" fill="rgb(246,246,246)"/>
<rect x="548.65" y="225.22" width="16.23" height="13.52" fill="rgb(246,246,246)"/>
<rect x="564.59" y="225.22" width="16.23" height="13.52" fill="rgb(247,247,247)"/>
<rect x="580.52" y="225.22" width="16.23" height="13.52" fill="rgb(249,249,249)"/>
<rect x="596.45" y="225.22" width="16.23" height="13.52" fill="rgb(251,251,251)"/>
<rect x="612.39" y="225.22" width="16.23" height="13.52" fill="rgb(250,250,250)"/>
<rect x="628.33" y="225.22" width="16.23" height="13.52" fill="rgb(245,245,245)"/>
<rect x="644.26" y="225.22" width="16.23" height="13.52" fill="rgb(235,235,235)"/>
<rect x="660.19" y="225.22" width="16.23" height="13.52" fill="rgb(220,220,220)"/>
<rect x="676.13" y="225.22" width="16.23" height="13.52" fill="rgb(216,216,216)"/>
<rect x="692.07" y="225.22" width="16.23" height="13.52" fill="rgb(217,217,217)"/>
<rect x="389.30" y="238.44" width="16.23" height="13.52" fill="rgb(224,224,224)"/>
<rect x="405.24" y="238.44" width="16.23" height="13.52" fill="rgb(223,223,223)"/>
<rect x="421.17" y="238.44" width="16.23" height="13.52" fill="rgb(236,236,236)"/>
<rect x="437.11" y="238.44" width="16.23" height="13.52" fill="rgb(248,248,248)"/>
<rect x="453.04" y="238.44" width="16.23" height="13.52" fill="rgb(253,253,253)"/>
<rect x="468.98" y="238.44" width="16.23" height="13.52" fill="rgb(252,252,252)"/>
<rect x="484.91" y="238.44" width="16.23" height="13.52" fill="rgb(249,249,249)"/>
<rect x="500.85" y="238.44" width="16.23" height="13.52" fill="rgb(245,245,245)"/>
<rect x="516.78" y="238.44" width="16.23" height="13.52" fill="rgb(241,241,241)"/>
<rect x="532.72" y="238.44" width="16.23" height="13.52" fill="rgb(240,240,240)"/>
<rect x="548.65" y="238.44" width="16.23" height="13.52" fill="rgb(240,240,240)"/>
<rect x="564.59" y="238.44" width="16.23" height="13.52" fill="rgb(242,242,242)"/>
<rect x="580.52" y="238.44" width="16.23" height="13.52" fill="rgb(245,245,245)"/>
<rect x="596.45" y="238.44" width="16.23" height="13.52" fill="rgb(249,249,249)"/>
<rect x="612.39" y="238.44" width="16.23" height="13.52" fill="rgb(253,253,253)"/>
<rect x="628.33" y="238.44" width="16.23" height="13.52" fill="rgb(253,253,253)"/>
<rect x="644.26" y="238.44" width="16.23" height="13.52" fill="rgb(247,247,247)"/>
<rect x="660.19" y="238.44" width="16.23" height="13.52" fill="rgb(235,235,235)"/>
<rect x="676.13" y="238.44" width="16.23" height="13.52" fill="rgb(221,221,221)"/>
<rect x="692.07" y="238.44" width="16.23" height="13.52" fill="rgb(222,222,222)"/>
<rect x="389.30" y="251.66" width="16.23" height="13.52" fill="rgb(225,225,225)"/>
<rect x="405.24" y="251.66" width="16.23" height="13.52" fill="rgb(230,230,230)"/>
<rect x="421.17" y="251.66" width="16.23" height="13.52" fill="rgb(246,246,246)"/>
<rect x="437.11" y="251.66" width="16.23" height="13.52" fill="rgb(253,253,253)"/>
<rect x="453.04" y="251.66" width="16.23" height="13.52" fill="rgb(253,253,253)"/>
<rect x="468.98" y="251.66" width="16.23" height="13.52" fill="rgb(248,248,248)"/>
<rect x="484.91" y="251.66" width="16.23" height="13.52" fill="rgb(241,241,241)"/>
<rect x="500.85" y="251.66" width="16.23" height="13.52" fill="rgb(236,236,236)"/>
<rect x="516.78" y="251.66" width="16.23" height="13.52" fill="rgb(231,231,231)"/>
<rect x="532.72" y="251.66" width="16.23" height="13.52" fill="rgb(229,229,229)"/>
<rect x="548.65" y="251.66" width="16.23" height="13.52" fill="rgb(229,229,229)"/>
<rect x="564.59" y="251.66" width="16.23" height="13.52" fill="rgb(232,232,232)"/>
<rect x="580.52" y="251.66" width="16.23" height="13.52" fill="rgb(236,236,236)"/>
<rect x="596.45" y="251.66" width="16.23" height="13.52" fill="rgb(242,242,242)"/>
<rect x="612.39" y="251.66" width="16.23" height="13.52" fill="rgb(248,248,248)"/>
<rect x="628.33" y="251.66" width="16.23" height="13.52" fill="rgb(253,253,253)"/>
<rect x="644.26" y="251.66" width="16.23" height="13.52" fill="rgb(253,253,253)"/>
<rect x="660.19" y="251.66" width="16.23" height="13.52" fill="rgb(245,245,245)"/>
<rect x="676.13" y="251.66" width="16.23" height="13.52" fill="rgb(228,228,228)"/>
<rect x="692.07" y="251.66" width="16.23" height="13.52" fill="rgb(223,223,223)"/>
<rect x="389.30" y="264.87" width="16.23" height="13.52" fill="rgb(220,220,220)"/>
<rect x="405.24" y="264.87" width="16.23" height="13.52" fill="rgb(234,234,234)"/>
<rect x="421.17" y="264.87" width="16.23" height="13.52" fill="rgb(245,245,245)"/>
<rect x="437.11" y="264.87" width="16.23" height="13.52" fill="rgb(247,247,247)"/>
<rect x="453.04" y="264.87" width="16.23" height="13.52" fill="rgb(243,243,243)"/>
<rect x="468.98" y="264.87" width="16.23" height="13.52" fill="rgb(236,236,236)"/>
<rect x="484.91" y="264.87" width="16.23" height="13.52" fill="rgb(228,228,228)"/>
<rect x="500.85" y="264.87" width="16.23" height="13.52" fill="rgb(221,221,221)"/>
<rect x="516.78" y="264.87" width="16.23" height="13.52" fill="rgb(217,217,217)"/>
<rect x="532.72" y="264.87" width="16.23" height="13.52" fill="rgb(214,214,214)"/>
<rect x="548.65" y="264.87" width="16.23" height="13.52" fill="rgb(215,215,215)"/>
<rect x="564.59" y="264.87" width="16.23" height="13.52" fill="rgb(217,217,217)"/>
<rect x="580.52" y="264.87" width="16.23" height="13.52" fill="rgb(222,222,222)"/>
<rect x="596.45" y="264.87" width="16.23" height="13.52" fill="rgb(229,229,229)"/>
<rect x="612.39" y="264.87" width="16.23" height="13.52" fill="rgb(236,236,236)"/>
<rect x="628.33" y="264.87" width="16.23" height="13.52" fill="rgb(244,244,244)"/>
<rect x="644.26" y="264.87" width="16.23" height="13.52" fill="rgb(247,247,247)"/>
<rect x="660.19" y="264.87" width="16.23" height="13.52" fill="rgb(244,244,244)"/>
<rect x="676.13" y="264.87" width="16.23" height="13.52" fill="rgb(233,233,233)"/>
<rect x="692.07" y="264.87" width="16.23" height="13.52" fill="rgb(218,218,218)"/>
<rect x="389.30" y="278.09" width="16.23" height="13.52" fill="rgb(213,213,213)"/>
<rect x="405.24" y="278.09" width="16.23" height="13.52" fill="rgb(227,227,227)"/>
<rect x="421.17" y="278.09" width="16.23" height="13.52" fill="rgb(233,233,233)"/>
<rect x="437.11" y="278.09" width="16.23" height="13.52" fill="rgb(232,232,232)"/>
<rect x="453.04" y="278.09" width="16.23" height="13.52" fill="rgb(226,226,226)"/>
<rect x="468.98" y="278.09" width="16.23" height="13.52" fill="rgb(217,217,217)"/>
<rect x="484.91" y="278.09" width="16.23" height="13.52" fill="rgb(209,209,209)"/>
<rect x="500.85" y="278.09" width="16.23" height="13.52" fill="rgb(203,203,203)"/>
<rect x="516.78" y="278.09" width="16.23" height="13.52" fill="rgb(198,198,198)"/>
<rect x="532.72" y="278.09" width="16.23" height="13.52" fill="rgb(196,196,196)"/>
<rect x="548.65" y="278.09" width="16.23" height="13.52" fill="rgb(196,196,196)"/>
<rect x="564.59" y="278.09" width="16.23" height="13.52" fill="rgb(199,199,199)"/>
<rect x="580.52" y="278.09" width="16.23" height="13.52" fill="rgb(203,203,203)"/>
<rect x="596.45" y="278.09" width="16.23" height="13.52" fill="rgb(210,210,210)"/>
<rect x="612.39" y="278.09" width="16.23" height="13.52" fill="rgb(218,218,218)"/>
<rect x="628.33" y="278.09" width="16.23" height="13.52" fill="rgb(226,226,226)"/>
<rect x="644.26" y="278.09" width="16.23" height="13.52" fill="rgb(232,232,232)"/>
<rect x="660.19" y="278.09" width="16.23" height="13.52" fill="rgb(233,233,233)"/>
<rect x="676.13" y="278.09" width="16.23" height="13.52" fill="rgb(226,226,226)"/>
<rect x="692.07" y="278.09" width="16.23" height="13.52" fill="rgb(210,210,210)"/>
</g>
<path d="M553.7,31.1 L553.4,32.0 L553.2,33.0 L553.0,33.9 L552.7,34.9 L552.5,35.8 L552.3,36.8 L552.1,37.7 L551.9,38.7 L551.7,39.6 L551.5,40.6 L551.3,41.6 L551.1,42.5 L550.9,43.5 L550.7,44.4 L550.5,45.4 L550.3,46.3 L550.1,47.3 L549.9,48.3 L549.7,49.2 L549.5,50.2 L549.3,51.1 L549.1,52.1 L548.9,53.0 L548.7,54.0 L548.5,54.9 L548.2,55.9 L548.0,56.8 L547.8,57.8 L547.5,58.7 L547.3,59.7 L547.0,60.6 L546.7,61.5 L546.5,62.5 L546.2,63.4 L545.9,64.3 L545.6,65.2 L545.3,66.2 L544.9,67.1 L544.6,68.0 L544.3,68.9 L543.9,69.8 L543.6,70.7 L543.2,71.6 L542.8,72.5 L542.4,73.4 L542.1,74.3 L541.7,75.2 L541.3,76.1 L540.9,77.0 L540.5,77.9 L540.1,78.8 L539.7,79.7 L539.3,80.6 L538.9,81.5 L538.5,82.4 L538.1,83.3 L537.7,84.2 L537.3,85.0 L536.9,85.9 L536.5,86.8 L536.1,87.7 L535.7,88.6 L535.3,89.5 L534.9,90.4 L534.4,91.3 L534.0,92.2 L533.6,93.1 L533.2,93.9 L532.8,94.8 L532.3,95.7 L531.9,96.6 L531.5,97.5 L531.1,98.4 L530.6,99.2 L530.2,100.1 L529.8,101.0 L529.3,101.9 L528.9,102.7 L528.4,103.6 L528.0,104.5 L527.5,105.3 L527.1,106.2 L526.6,107.1 L526.1,107.9 L525.7,108.8 L525.2,109.6 L524.7,110.5 L524.2,111.3 L523.8,112.2 L523.3,113.0 L522.8,113.9 L522.3,114.7 L521.8,115.6 L521.3,116.4 L520.7,117.2 L520.2,118.0 L519.7,118.9 L519.2,119.7 L518.6,120.5 L518.1,121.3 L517.6,122.1 L517.0,123.0 L516.5,123.8 L515.9,124.6 L515.4,125.4 L514.8,126.2 L514.3,127.0 L513.7,127.8 L513.1,128.6 L512.6,129.4 L512.0,130.1 L511.4,130.9 L510.8,131.7 L510.2,132.5 L509.6,133.3 L509.0,134.1 L508.5,134.8 L507.9,135.6 L507.2,136.4 L506.6,137.1 L506.0,137.9 L505.4,138.7 L504.8,139.4 L504.2,140.2 L503.6,140.9 L502.9,141.7 L502.3,142.4 L501.7,143.2 L501.0,143.9 L500.4,144.7 L499.8,145.4 L499.1,146.1 L498.5,146.9 L497.8,147.6 L497.2,148.3 L496.5,149.0 L495.9,149.8 L495.2,150.5 L494.5,151.2 L493.9,151.9 L493.2,152.6 L492.5,153.3 L491.8,154.0 L491.1,154.7 L490.5,155.4 L489.8,156.1 L489.1,156.8 L488.4,157.5 L487.7,158.1 L487.0,158.8 L486.3,159.5 L485.5,160.2 L484.8,160.8 L484.1,161.5 L483.4,162.1 L482.7,162.8 L481.9,163.4 L481.2,164.1 L480.5,164.7 L479.7,165.4 L479.0,166.0 L478.2,166.6 L477.5,167.3 L476.7,167.9 L476.0,168.5 L475.2,169.2 L474.5,169.8 L473.7,170.4 L473.0,171.0 L472.2,171.6 L471.5,172.2 L470.7,172.9 L469.9,173.5 L469.2,174.1 L468.4,174.7 L467.6,175.3 L466.9,175.9 L466.1,176.5 L465.3,177.1 L464.5,177.7 L463.8,178.3 L463.0,178.9 L462.2,179.5 L461.4,180.1 L460.7,180.7 L459.9,181.3 L459.1,181.9 L458.4,182.5 L457.6,183.1 L456.8,183.7 L456.0,184.3 L455.3,184.9 L454.5,185.5 L453.7,186.1 L453.0,186.7 L452.2,187.3 L451.4,187.9 L450.7,188.5 L449.9,189.1" fill="none" stroke="#1212ff" stroke-width="1.15" clip-path="url(#ctb)"/>
<path d="M570.8,59.6 L570.7,60.7 L570.4,61.9 L570.2,63.0 L570.0,64.2 L569.7,65.3 L569.5,66.4 L569.2,67.6 L568.9,68.7 L568.6,69.8 L568.3,70.9 L568.0,72.0 L567.6,73.1 L567.3,74.3 L566.9,75.4 L566.6,76.5 L566.2,77.5 L565.8,78.6 L565.4,79.7 L565.0,80.8 L564.6,81.9 L564.2,83.0 L563.8,84.0 L563.4,85.1 L562.9,86.2 L562.5,87.3 L562.0,88.3 L561.6,89.4 L561.1,90.5 L560.7,91.5 L560.2,92.6 L559.7,93.6 L559.3,94.7 L558.8,95.7 L558.3,96.8 L557.8,97.9 L557.4,98.9 L556.9,100.0 L556.4,101.0 L555.9,102.1 L555.5,103.1 L555.0,104.2 L554.5,105.2 L554.0,106.3 L553.6,107.3 L553.1,108.4 L552.6,109.4 L552.2,110.5 L551.7,111.6 L551.3,112.6 L550.9,113.7 L550.4,114.8 L550.0,115.8 L549.7,116.9 L549.3,118.0 L548.9,119.1 L548.5,120.2 L548.2,121.3 L547.8,122.4 L547.4,123.5 L547.0,124.5 L546.6,125.6 L546.1,126.6 L545.6,127.7 L545.1,128.7 L544.6,129.7 L544.0,130.7 L543.4,131.7 L542.8,132.6 L542.2,133.6 L541.5,134.5 L540.8,135.4 L540.1,136.3 L539.4,137.2 L538.6,138.1 L537.9,139.0 L537.1,139.8 L536.3,140.7 L535.5,141.6 L534.7,142.4 L534.0,143.3 L533.2,144.1 L532.4,145.0 L531.6,145.9 L530.8,146.7 L530.0,147.6 L529.2,148.5 L528.5,149.4 L527.8,150.3 L527.0,151.2 L526.3,152.1 L525.6,153.0 L525.0,154.0 L524.3,154.9 L523.6,155.8 L522.9,156.8 L522.2,157.7 L521.6,158.6 L520.9,159.6 L520.2,160.5 L519.5,161.4 L518.8,162.3 L518.1,163.2 L517.4,164.1 L516.6,165.0 L515.9,165.8 L515.1,166.7 L514.3,167.5 L513.5,168.4 L512.7,169.2 L511.9,170.0 L511.1,170.8 L510.2,171.6 L509.3,172.3 L508.5,173.1 L507.6,173.8 L506.7,174.6 L505.8,175.3 L504.9,176.0 L503.9,176.7 L503.0,177.4 L502.1,178.1 L501.1,178.8 L500.2,179.4 L499.3,180.1 L498.3,180.8 L497.4,181.4 L496.4,182.1 L495.5,182.8 L494.5,183.5 L493.6,184.1 L492.6,184.8 L491.7,185.5 L490.7,186.2 L489.8,186.9 L488.9,187.6 L488.0,188.3 L487.1,189.0 L486.2,189.7 L485.3,190.4 L484.4,191.2 L483.5,191.9 L482.6,192.7 L481.7,193.4 L480.9,194.1 L480.0,194.9 L479.1,195.6 L478.2,196.3 L477.3,197.0 L476.4,197.8 L475.4,198.5 L474.5,199.1 L473.6,199.8 L472.7,200.5 L471.7,201.2 L470.8,201.9 L469.8,202.5 L468.9,203.2 L467.9,203.8 L467.0,204.5 L466.0,205.1 L465.1,205.7 L464.1,206.4 L463.1,207.0 L462.1,207.6 L461.1,208.2 L460.1,208.8 L459.2,209.4 L458.2,209.9 L457.2,210.5 L456.1,211.1 L455.1,211.7 L454.1,212.2 L453.1,212.8 L452.1,213.3 L451.1,213.9 L450.0,214.4 L449.0,214.9 L448.0,215.4 L446.9,216.0 L445.9,216.5 L444.8,217.0 L443.8,217.5 L442.7,218.0 L441.7,218.5 L440.6,219.0 L439.6,219.5 L438.6,220.0 L437.5,220.5 L436.5,221.1 L435.5,221.6 L434.5,222.2 L433.5,222.8 L432.6,223.4 L431.6,224.1 L430.7,224.7 L429.7,225.4 L428.8,226.2 L428.0,226.9 L427.1,227.8" fill="none" stroke="#1212ff" stroke-width="1.15" clip-path="url(#ctb)"/>
<path d="M590.8,90.3 L590.3,91.5 L589.7,92.6 L589.2,93.8 L588.7,95.0 L588.2,96.1 L587.6,97.3 L587.1,98.5 L586.6,99.7 L586.1,100.8 L585.6,102.0 L585.1,103.2 L584.6,104.4 L584.1,105.5 L583.6,106.7 L583.1,107.9 L582.6,109.1 L582.1,110.3 L581.6,111.5 L581.1,112.7 L580.6,113.9 L580.2,115.1 L579.7,116.2 L579.2,117.4 L578.7,118.6 L578.2,119.8 L577.8,121.0 L577.3,122.2 L576.8,123.4 L576.3,124.6 L575.9,125.8 L575.4,127.0 L574.9,128.2 L574.4,129.4 L573.9,130.5 L573.4,131.7 L572.9,132.9 L572.4,134.1 L571.9,135.2 L571.3,136.4 L570.8,137.6 L570.3,138.7 L569.7,139.9 L569.2,141.0 L568.6,142.2 L568.0,143.3 L567.4,144.5 L566.8,145.6 L566.2,146.7 L565.6,147.8 L565.0,149.0 L564.3,150.1 L563.7,151.2 L563.0,152.3 L562.4,153.4 L561.7,154.4 L561.0,155.5 L560.3,156.6 L559.6,157.7 L558.9,158.7 L558.1,159.8 L557.4,160.8 L556.6,161.9 L555.9,162.9 L555.1,163.9 L554.3,165.0 L553.6,166.0 L552.8,167.0 L552.0,168.0 L551.2,169.0 L550.4,170.0 L549.5,171.0 L548.7,172.0 L547.9,173.0 L547.0,173.9 L546.2,174.9 L545.3,175.8 L544.5,176.8 L543.6,177.7 L542.7,178.7 L541.8,179.6 L540.9,180.5 L540.0,181.4 L539.1,182.3 L538.2,183.2 L537.3,184.1 L536.4,185.0 L535.4,185.9 L534.5,186.8 L533.5,187.6 L532.6,188.5 L531.6,189.3 L530.7,190.2 L529.7,191.0 L528.7,191.8 L527.7,192.6 L526.7,193.4 L525.7,194.2 L524.7,195.0 L523.7,195.8 L522.7,196.6 L521.7,197.4 L520.6,198.1 L519.6,198.9 L518.5,199.6 L517.5,200.4 L516.4,201.1 L515.4,201.8 L514.3,202.5 L513.3,203.3 L512.2,204.0 L511.1,204.7 L510.0,205.4 L509.0,206.1 L507.9,206.8 L506.8,207.5 L505.7,208.1 L504.6,208.8 L503.5,209.5 L502.4,210.2 L501.3,210.9 L500.3,211.5 L499.2,212.2 L498.1,212.9 L497.0,213.5 L495.9,214.2 L494.8,214.9 L493.7,215.6 L492.6,216.2 L491.5,216.9 L490.4,217.6 L489.3,218.3 L488.2,218.9 L487.1,219.6 L486.0,220.3 L484.9,220.9 L483.8,221.6 L482.7,222.3 L481.6,222.9 L480.5,223.6 L479.4,224.2 L478.3,224.9 L477.2,225.5 L476.1,226.2 L475.0,226.8 L473.9,227.5 L472.8,228.1 L471.7,228.7 L470.5,229.3 L469.4,229.9 L468.3,230.5 L467.1,231.1 L466.0,231.7 L464.8,232.2 L463.7,232.8 L462.5,233.4 L461.4,233.9 L460.2,234.4 L459.0,235.0 L457.9,235.5 L456.7,236.0 L455.5,236.5 L454.3,237.0 L453.2,237.5 L452.0,238.0 L450.8,238.5 L449.6,238.9 L448.4,239.4 L447.2,239.9 L446.0,240.3 L444.8,240.8 L443.6,241.2 L442.4,241.7 L441.2,242.1 L440.0,242.5 L438.7,243.0 L437.5,243.4 L436.3,243.8 L435.1,244.3 L433.9,244.7 L432.7,245.1 L431.5,245.6 L430.3,246.0 L429.1,246.4 L427.9,246.9 L426.7,247.3 L425.5,247.8 L424.3,248.2 L423.1,248.7 L421.9,249.1 L420.7,249.6 L419.5,250.1 L418.3,250.6 L417.2,251.1 L416.0,251.6 L414.8,252.1 L413.7,252.6 L412.5,253.1 L411.3,253.7 L410.2,254.2" fill="none" stroke="#1212ff" stroke-width="1.15" clip-path="url(#ctb)"/>
<path d="M613.1,127.4 L612.3,128.7 L611.6,129.9 L611.0,131.2 L610.4,132.4 L609.8,133.7 L609.3,135.0 L608.8,136.3 L608.4,137.7 L607.9,139.0 L607.5,140.3 L607.1,141.7 L606.7,143.0 L606.3,144.3 L606.0,145.7 L605.6,147.0 L605.2,148.4 L604.8,149.7 L604.3,151.0 L603.9,152.4 L603.4,153.7 L602.9,155.0 L602.4,156.3 L601.9,157.6 L601.3,158.8 L600.7,160.1 L600.1,161.4 L599.5,162.6 L598.9,163.9 L598.2,165.1 L597.6,166.3 L596.9,167.6 L596.2,168.8 L595.5,170.0 L594.7,171.2 L594.0,172.4 L593.2,173.5 L592.4,174.7 L591.7,175.9 L590.9,177.0 L590.0,178.2 L589.2,179.3 L588.4,180.5 L587.5,181.6 L586.7,182.7 L585.8,183.8 L584.9,184.9 L584.1,186.0 L583.2,187.1 L582.3,188.1 L581.3,189.2 L580.4,190.3 L579.5,191.3 L578.5,192.3 L577.6,193.4 L576.6,194.4 L575.7,195.4 L574.7,196.4 L573.7,197.4 L572.7,198.4 L571.7,199.4 L570.7,200.3 L569.7,201.3 L568.7,202.2 L567.6,203.2 L566.6,204.1 L565.6,205.0 L564.5,205.9 L563.4,206.9 L562.4,207.8 L561.3,208.6 L560.2,209.5 L559.1,210.4 L558.0,211.2 L556.9,212.1 L555.8,212.9 L554.7,213.8 L553.5,214.6 L552.4,215.4 L551.3,216.2 L550.1,217.0 L549.0,217.8 L547.8,218.6 L546.6,219.4 L545.5,220.1 L544.3,220.9 L543.1,221.6 L541.9,222.4 L540.7,223.1 L539.5,223.8 L538.3,224.5 L537.1,225.3 L535.9,226.0 L534.7,226.7 L533.5,227.3 L532.2,228.0 L531.0,228.7 L529.8,229.4 L528.5,230.0 L527.3,230.7 L526.1,231.3 L524.8,231.9 L523.6,232.6 L522.3,233.2 L521.0,233.8 L519.8,234.4 L518.5,235.0 L517.2,235.6 L516.0,236.2 L514.7,236.8 L513.4,237.4 L512.1,238.0 L510.9,238.6 L509.6,239.1 L508.3,239.7 L507.0,240.3 L505.7,240.8 L504.4,241.4 L503.2,241.9 L501.9,242.4 L500.6,243.0 L499.3,243.5 L498.0,244.0 L496.7,244.6 L495.4,245.1 L494.1,245.6 L492.8,246.1 L491.5,246.6 L490.2,247.1 L488.9,247.6 L487.6,248.1 L486.2,248.6 L484.9,249.1 L483.6,249.6 L482.3,250.1 L481.0,250.6 L479.7,251.1 L478.4,251.6 L477.1,252.0 L475.7,252.5 L474.4,253.0 L473.1,253.5 L471.8,253.9 L470.5,254.4 L469.2,254.9 L467.8,255.4 L466.5,255.8 L465.2,256.3 L463.9,256.8 L462.5,257.2 L461.2,257.7 L459.9,258.2 L458.6,258.6 L457.3,259.1 L455.9,259.6 L454.6,260.0 L453.3,260.5 L452.0,260.9 L450.6,261.4 L449.3,261.8 L448.0,262.3 L446.6,262.7 L445.3,263.2 L444.0,263.6 L442.7,264.1 L441.3,264.5 L440.0,264.9 L438.7,265.4 L437.3,265.8 L436.0,266.2 L434.7,266.7 L433.3,267.1 L432.0,267.5 L430.6,267.9 L429.3,268.4 L428.0,268.8 L426.6,269.2 L425.3,269.6 L424.0,270.0 L422.6,270.4 L421.3,270.8 L419.9,271.2 L418.6,271.6 L417.2,272.0 L415.9,272.4 L414.6,272.8 L413.2,273.2 L411.9,273.6 L410.5,274.0 L409.2,274.3 L407.8,274.7 L406.5,275.1 L405.1,275.5 L403.8,275.8 L402.4,276.2 L401.1,276.5 L399.7,276.9 L398.3,277.2 L397.0,277.6 L395.6,277.9" fill="none" stroke="#1212ff" stroke-width="1.15" clip-path="url(#ctb)"/>
<path d="M643.3,180.6 L642.8,181.9 L642.4,183.2 L642.0,184.5 L641.5,185.7 L641.0,187.0 L640.5,188.3 L640.0,189.5 L639.5,190.8 L638.9,192.0 L638.4,193.2 L637.8,194.4 L637.2,195.6 L636.5,196.8 L635.9,198.0 L635.2,199.2 L634.6,200.4 L633.9,201.5 L633.2,202.7 L632.5,203.8 L631.7,204.9 L631.0,206.0 L630.2,207.1 L629.4,208.2 L628.6,209.3 L627.8,210.3 L627.0,211.4 L626.1,212.4 L625.3,213.5 L624.4,214.5 L623.5,215.5 L622.6,216.5 L621.7,217.4 L620.8,218.4 L619.9,219.3 L618.9,220.2 L618.0,221.2 L617.0,222.1 L616.0,222.9 L615.0,223.8 L614.0,224.7 L613.0,225.5 L612.0,226.4 L610.9,227.2 L609.9,228.0 L608.8,228.8 L607.8,229.6 L606.7,230.4 L605.6,231.1 L604.5,231.9 L603.4,232.6 L602.3,233.4 L601.2,234.1 L600.1,234.8 L598.9,235.5 L597.8,236.2 L596.6,236.9 L595.5,237.5 L594.3,238.2 L593.2,238.9 L592.0,239.5 L590.8,240.1 L589.6,240.8 L588.4,241.4 L587.2,242.0 L586.0,242.6 L584.8,243.2 L583.6,243.8 L582.4,244.4 L581.2,244.9 L580.0,245.5 L578.7,246.1 L577.5,246.6 L576.3,247.2 L575.0,247.7 L573.8,248.3 L572.6,248.8 L571.3,249.3 L570.1,249.8 L568.8,250.4 L567.6,250.9 L566.4,251.4 L565.1,251.9 L563.9,252.4 L562.6,252.9 L561.4,253.4 L560.1,253.9 L558.9,254.3 L557.6,254.8 L556.4,255.3 L555.1,255.8 L553.9,256.2 L552.6,256.7 L551.3,257.2 L550.1,257.6 L548.8,258.1 L547.6,258.5 L546.3,259.0 L545.1,259.4 L543.8,259.8 L542.5,260.2 L541.3,260.7 L540.0,261.1 L538.7,261.5 L537.5,261.9 L536.2,262.3 L534.9,262.7 L533.7,263.1 L532.4,263.5 L531.1,263.9 L529.8,264.2 L528.6,264.6 L527.3,265.0 L526.0,265.3 L524.7,265.7 L523.4,266.1 L522.1,266.4 L520.9,266.8 L519.6,267.1 L518.3,267.4 L517.0,267.8 L515.7,268.1 L514.4,268.4 L513.1,268.8 L511.8,269.1 L510.5,269.4 L509.2,269.7 L507.9,270.0 L506.6,270.3 L505.3,270.7 L504.0,271.0 L502.7,271.3 L501.4,271.6 L500.1,271.9 L498.8,272.2 L497.5,272.5 L496.2,272.8 L494.9,273.1 L493.6,273.4 L492.3,273.7 L491.0,274.1 L489.7,274.4 L488.4,274.7 L487.1,275.0 L485.8,275.3 L484.5,275.6 L483.2,275.9 L481.9,276.2 L480.6,276.6 L479.3,276.9 L478.0,277.2 L476.7,277.5 L475.4,277.8 L474.1,278.2 L472.8,278.5 L471.5,278.8 L470.2,279.1 L468.9,279.5 L467.6,279.8 L466.3,280.1 L465.0,280.4 L463.7,280.8 L462.4,281.1 L461.1,281.4 L459.8,281.7 L458.5,282.1 L457.2,282.4 L455.9,282.7 L454.6,283.0 L453.3,283.4 L452.0,283.7 L450.7,284.0 L449.5,284.3 L448.2,284.6 L446.9,285.0 L445.6,285.3 L444.3,285.6 L443.0,285.9 L441.7,286.2 L440.4,286.5 L439.1,286.8 L437.8,287.2 L436.5,287.5 L435.2,287.8 L433.9,288.1 L432.6,288.4 L431.3,288.7 L430.0,289.0 L428.7,289.3 L427.3,289.6 L426.0,289.9 L424.7,290.1 L423.4,290.4 L422.1,290.7 L420.8,291.0 L419.5,291.3 L418.2,291.5 L416.9,291.8 L415.6,292.1 L414.3,292.3" fill="none" stroke="#1212ff" stroke-width="1.15" clip-path="url(#ctb)"/>
<polygon points="548.2,27.0 389.3,291.3 708.0,291.3" fill="none" stroke="#141414" stroke-width="1.2" stroke-linejoin="miter"/>
<rect x="493.85" y="114.25" width="44.10" height="8.00" fill="#fff" stroke="#1414ff" stroke-width="1.3"/>
<text x="496.2" y="121.2" font-family="'Liberation Sans', Arial, sans-serif" font-size="8.6" font-weight="normal" textLength="40.4" lengthAdjust="spacingAndGlyphs" fill="#000">28.0175</text>
<rect x="500.15" y="149.25" width="43.80" height="8.00" fill="#fff" stroke="#1414ff" stroke-width="1.3"/>
<text x="502.5" y="156.2" font-family="'Liberation Sans', Arial, sans-serif" font-size="8.6" font-weight="normal" textLength="40.1" lengthAdjust="spacingAndGlyphs" fill="#000">21.9749</text>
<rect x="509.55" y="179.75" width="43.80" height="7.90" fill="#fff" stroke="#1414ff" stroke-width="1.3"/>
<text x="511.9" y="186.6" font-family="'Liberation Sans', Arial, sans-serif" font-size="8.6" font-weight="normal" textLength="40.1" lengthAdjust="spacingAndGlyphs" fill="#000">15.9323</text>
<rect x="514.35" y="215.75" width="43.60" height="8.10" fill="#fff" stroke="#1414ff" stroke-width="1.3"/>
<text x="516.7" y="222.8" font-family="'Liberation Sans', Arial, sans-serif" font-size="8.6" font-weight="normal" textLength="39.9" lengthAdjust="spacingAndGlyphs" fill="#000">9.88973</text>
<rect x="542.35" y="242.85" width="43.60" height="8.00" fill="#fff" stroke="#1414ff" stroke-width="1.3"/>
<text x="544.7" y="249.8" font-family="'Liberation Sans', Arial, sans-serif" font-size="8.6" font-weight="normal" textLength="39.9" lengthAdjust="spacingAndGlyphs" fill="#000">3.84715</text>
<circle cx="547.6" cy="43.3" r="2.5" fill="#f00000" stroke="#2a1a1a" stroke-width="0.9"/>
<circle cx="547.7" cy="124.5" r="2.5" fill="#f00000" stroke="#2a1a1a" stroke-width="0.9"/>
<circle cx="476.3" cy="162.8" r="2.5" fill="#f00000" stroke="#2a1a1a" stroke-width="0.9"/>
<circle cx="619.4" cy="163.2" r="2.5" fill="#f00000" stroke="#2a1a1a" stroke-width="0.9"/>
<circle cx="547.7" cy="202.3" r="2.5" fill="#f00000" stroke="#2a1a1a" stroke-width="0.9"/>
<circle cx="477.4" cy="241" r="2.5" fill="#f00000" stroke="#2a1a1a" stroke-width="0.9"/>
<circle cx="617.7" cy="241" r="2.5" fill="#f00000" stroke="#2a1a1a" stroke-width="0.9"/>
<circle cx="404.5" cy="282.5" r="2.5" fill="#f00000" stroke="#2a1a1a" stroke-width="0.9"/>
<circle cx="547.8" cy="282.2" r="2.5" fill="#f00000" stroke="#2a1a1a" stroke-width="0.9"/>
<circle cx="690.9" cy="282" r="2.5" fill="#f00000" stroke="#2a1a1a" stroke-width="0.9"/>
<text transform="translate(4.80,17.26) scale(1.096,1)" font-family="'Liberation Serif', 'Times New Roman', serif" font-size="15.89" font-weight="bold" fill="#1a1a1a">(a)</text>
<text transform="translate(376.89,17.42) scale(1.094,1)" font-family="'Liberation Serif', 'Times New Roman', serif" font-size="16.11" font-weight="bold" fill="#1a1a1a">(b)</text>
<text transform="translate(126.80,11.30) scale(1.437,1)" font-family="'Liberation Sans', Arial, sans-serif" font-size="13.33" font-weight="normal" fill="#1a1a1a">A: Ethanol</text>
<text transform="translate(153.86,26.70) scale(1.446,1)" font-family="'Liberation Sans', Arial, sans-serif" font-size="13.19" font-weight="normal" fill="#1a1a1a">1.00</text>
<text transform="translate(40.71,169.27) scale(1.531,1)" font-family="'Liberation Sans', Arial, sans-serif" font-size="12.82" font-weight="normal" fill="#1a1a1a">0.00</text>
<text transform="translate(267.00,169.67) scale(1.569,1)" font-family="'Liberation Sans', Arial, sans-serif" font-size="12.68" font-weight="normal" fill="#1a1a1a">0.00</text>
<text transform="translate(5.60,312.50) scale(1.564,1)" font-family="'Liberation Sans', Arial, sans-serif" font-size="12.75" font-weight="normal" fill="#1a1a1a">1.00</text>
<text transform="translate(5.46,326.00) scale(1.525,1)" font-family="'Liberation Sans', Arial, sans-serif" font-size="12.61" font-weight="normal" fill="#1a1a1a">B: Glycol</text>
<text transform="translate(154.02,312.18) scale(1.616,1)" font-family="'Liberation Sans', Arial, sans-serif" font-size="12.11" font-weight="normal" fill="#1a1a1a">0.00</text>
<text transform="translate(300.60,312.30) scale(1.572,1)" font-family="'Liberation Sans', Arial, sans-serif" font-size="12.75" font-weight="normal" fill="#1a1a1a">1.00</text>
<text transform="translate(263.12,326.08) scale(1.598,1)" font-family="'Liberation Sans', Arial, sans-serif" font-size="12.25" font-weight="normal" fill="#1a1a1a">C: Water</text>
<text transform="translate(122.18,343.05) scale(1.643,1)" font-family="'Liberation Sans', Arial, sans-serif" font-size="15.49" font-weight="normal" fill="#1a1a1a">Solubility</text>
<text transform="translate(504.10,14.10) scale(1.380,1)" font-family="'Liberation Sans', Arial, sans-serif" font-size="13.33" font-weight="normal" fill="#1a1a1a">A: Ethanol</text>
<text transform="translate(528.86,29.80) scale(1.513,1)" font-family="'Liberation Sans', Arial, sans-serif" font-size="12.61" font-weight="normal" fill="#1a1a1a">1.00</text>
<text transform="translate(422.15,170.07) scale(1.456,1)" font-family="'Liberation Sans', Arial, sans-serif" font-size="12.82" font-weight="normal" fill="#1a1a1a">0.00</text>
<text transform="translate(637.25,169.87) scale(1.489,1)" font-family="'Liberation Sans', Arial, sans-serif" font-size="12.54" font-weight="normal" fill="#1a1a1a">0.00</text>
<text transform="translate(388.76,310.80) scale(1.496,1)" font-family="'Liberation Sans', Arial, sans-serif" font-size="12.75" font-weight="normal" fill="#1a1a1a">1.00</text>
<text transform="translate(388.62,324.50) scale(1.414,1)" font-family="'Liberation Sans', Arial, sans-serif" font-size="13.04" font-weight="normal" fill="#1a1a1a">B: Glycol</text>
<text transform="translate(529.45,310.68) scale(1.514,1)" font-family="'Liberation Sans', Arial, sans-serif" font-size="12.39" font-weight="normal" fill="#1a1a1a">0.00</text>
<text transform="translate(669.50,310.80) scale(1.457,1)" font-family="'Liberation Sans', Arial, sans-serif" font-size="12.75" font-weight="normal" fill="#1a1a1a">1.00</text>
<text transform="translate(633.28,324.37) scale(1.455,1)" font-family="'Liberation Sans', Arial, sans-serif" font-size="12.68" font-weight="normal" fill="#1a1a1a">C: Water</text>
<text transform="translate(499.74,341.53) scale(1.439,1)" font-family="'Liberation Sans', Arial, sans-serif" font-size="16.76" font-weight="normal" fill="#1a1a1a">Solubility</text>
<text transform="translate(159.85,24.50) scale(1.286,1)" font-family="'Liberation Sans', Arial, sans-serif" font-size="10.14" font-weight="normal" fill="#111">2</text>
<text transform="translate(326.25,292.60) scale(1.667,1)" font-family="'Liberation Sans', Arial, sans-serif" font-size="9.00" font-weight="normal" fill="#111">2</text>
<text transform="translate(534.53,44.00) scale(1.329,1)" font-family="'Liberation Sans', Arial, sans-serif" font-size="10.14" font-weight="normal" fill="#111">2</text>
<text transform="translate(391.28,283.70) scale(1.141,1)" font-family="'Liberation Sans', Arial, sans-serif" font-size="10.86" font-weight="normal" fill="#111">2</text>
<text transform="translate(677.53,283.40) scale(1.522,1)" font-family="'Liberation Sans', Arial, sans-serif" font-size="10.14" font-weight="normal" fill="#111">2</text>
</svg>
</body></html>
